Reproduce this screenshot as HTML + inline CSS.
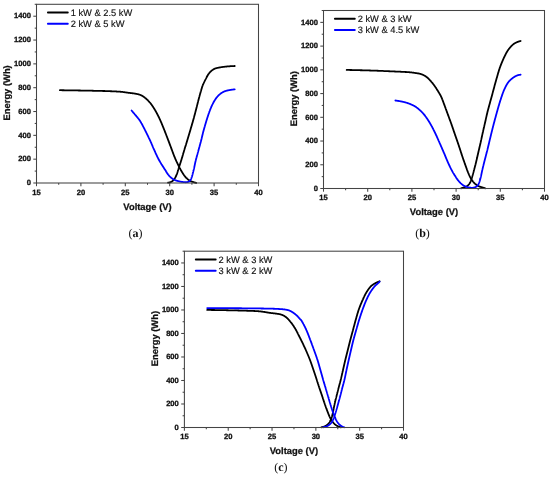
<!DOCTYPE html>
<html><head><meta charset="utf-8"><style>
html,body{margin:0;padding:0;background:#fff;}
body{width:550px;height:478px;overflow:hidden;}
svg{display:block;text-rendering:geometricPrecision;filter:blur(0.35px);}
.tk{font-family:"Liberation Sans",Arial,sans-serif;font-weight:bold;font-size:7.6px;fill:#111;stroke:#111;stroke-width:0.3px;}
.lab{font-family:"Liberation Sans",Arial,sans-serif;font-weight:bold;font-size:9.4px;fill:#111;stroke:#111;stroke-width:0.25px;}
.leg{font-family:"Liberation Sans",Arial,sans-serif;font-size:9.3px;fill:#111;stroke:#111;stroke-width:0.15px;}
.cap{font-family:"Liberation Serif","Times New Roman",serif;font-size:12px;fill:#111;}
</style></head><body>
<svg width="550" height="478" viewBox="0 0 550 478">
<path d="M59.90,90.20 L61.16,90.22 L62.41,90.24 L63.67,90.26 L64.92,90.28 L66.18,90.30 L67.43,90.31 L68.69,90.33 L69.94,90.35 L71.20,90.37 L72.45,90.39 L73.71,90.41 L74.96,90.43 L76.22,90.45 L77.47,90.47 L78.73,90.49 L79.98,90.51 L81.24,90.53 L82.49,90.55 L83.75,90.58 L85.00,90.60 L86.26,90.62 L87.54,90.65 L88.84,90.67 L90.15,90.70 L91.47,90.72 L92.79,90.75 L94.12,90.78 L95.44,90.80 L96.76,90.83 L98.07,90.86 L99.37,90.89 L100.66,90.92 L101.92,90.95 L103.17,90.98 L104.39,91.01 L105.58,91.05 L106.74,91.08 L107.87,91.12 L108.96,91.16 L110.00,91.20 L110.70,91.23 L111.39,91.26 L112.07,91.29 L112.74,91.32 L113.39,91.34 L114.04,91.37 L114.67,91.40 L115.29,91.43 L115.90,91.47 L116.50,91.50 L117.09,91.53 L117.67,91.57 L118.25,91.60 L118.81,91.64 L119.36,91.68 L119.91,91.72 L120.44,91.76 L120.97,91.80 L121.49,91.85 L122.00,91.90 L122.37,91.94 L122.73,91.98 L123.08,92.02 L123.42,92.06 L123.76,92.10 L124.09,92.15 L124.41,92.19 L124.73,92.24 L125.05,92.28 L125.36,92.33 L125.67,92.38 L125.98,92.43 L126.29,92.47 L126.60,92.52 L126.90,92.57 L127.22,92.62 L127.53,92.66 L127.85,92.71 L128.17,92.76 L128.50,92.80 L128.85,92.84 L129.19,92.89 L129.54,92.93 L129.90,92.97 L130.25,93.01 L130.61,93.05 L130.97,93.09 L131.33,93.12 L131.68,93.16 L132.04,93.20 L132.40,93.24 L132.75,93.28 L133.11,93.33 L133.46,93.37 L133.81,93.42 L134.16,93.47 L134.50,93.52 L134.84,93.58 L135.17,93.64 L135.50,93.70 L135.79,93.76 L136.08,93.82 L136.37,93.87 L136.66,93.93 L136.94,93.99 L137.22,94.04 L137.50,94.10 L137.78,94.17 L138.06,94.23 L138.33,94.30 L138.61,94.36 L138.88,94.44 L139.15,94.51 L139.42,94.60 L139.68,94.68 L139.95,94.77 L140.21,94.87 L140.48,94.97 L140.74,95.08 L141.00,95.20 L141.27,95.33 L141.54,95.47 L141.81,95.61 L142.07,95.76 L142.34,95.91 L142.60,96.07 L142.86,96.24 L143.12,96.41 L143.38,96.58 L143.64,96.76 L143.89,96.94 L144.15,97.13 L144.40,97.32 L144.65,97.51 L144.89,97.71 L145.14,97.90 L145.38,98.10 L145.62,98.30 L145.86,98.50 L146.10,98.70 L146.34,98.90 L146.57,99.11 L146.81,99.32 L147.04,99.53 L147.26,99.75 L147.49,99.96 L147.71,100.18 L147.93,100.40 L148.15,100.63 L148.37,100.85 L148.59,101.08 L148.80,101.32 L149.02,101.55 L149.23,101.79 L149.44,102.04 L149.66,102.28 L149.87,102.53 L150.08,102.78 L150.29,103.04 L150.50,103.30 L150.74,103.60 L150.97,103.90 L151.20,104.21 L151.44,104.52 L151.67,104.84 L151.90,105.16 L152.13,105.48 L152.35,105.81 L152.58,106.14 L152.80,106.48 L153.03,106.82 L153.25,107.16 L153.47,107.51 L153.69,107.86 L153.91,108.21 L154.13,108.56 L154.35,108.92 L154.57,109.28 L154.78,109.64 L155.00,110.00 L155.24,110.40 L155.47,110.80 L155.70,111.21 L155.93,111.61 L156.16,112.02 L156.39,112.44 L156.62,112.86 L156.84,113.28 L157.07,113.70 L157.29,114.13 L157.52,114.56 L157.74,115.00 L157.96,115.43 L158.18,115.88 L158.40,116.32 L158.62,116.77 L158.84,117.22 L159.06,117.68 L159.28,118.14 L159.50,118.60 L159.75,119.13 L159.99,119.66 L160.23,120.20 L160.48,120.74 L160.72,121.29 L160.96,121.84 L161.20,122.40 L161.43,122.96 L161.67,123.52 L161.91,124.09 L162.14,124.67 L162.38,125.25 L162.62,125.83 L162.86,126.41 L163.10,127.00 L163.33,127.60 L163.57,128.19 L163.81,128.79 L164.06,129.39 L164.30,130.00 L164.58,130.69 L164.85,131.39 L165.13,132.09 L165.41,132.80 L165.69,133.53 L165.97,134.25 L166.25,134.98 L166.53,135.72 L166.81,136.46 L167.10,137.20 L167.38,137.95 L167.66,138.69 L167.94,139.44 L168.23,140.19 L168.51,140.93 L168.79,141.67 L169.07,142.41 L169.35,143.15 L169.62,143.88 L169.90,144.60 L170.17,145.31 L170.44,146.01 L170.70,146.73 L170.97,147.44 L171.23,148.16 L171.49,148.87 L171.76,149.59 L172.02,150.30 L172.28,151.02 L172.54,151.73 L172.81,152.43 L173.07,153.14 L173.33,153.83 L173.59,154.52 L173.86,155.21 L174.12,155.88 L174.39,156.55 L174.66,157.21 L174.93,157.86 L175.20,158.50 L175.43,159.04 L175.67,159.58 L175.90,160.11 L176.14,160.64 L176.37,161.17 L176.61,161.68 L176.84,162.20 L177.08,162.71 L177.31,163.21 L177.55,163.71 L177.79,164.21 L178.03,164.70 L178.27,165.19 L178.51,165.67 L178.75,166.15 L179.00,166.63 L179.25,167.10 L179.49,167.57 L179.75,168.04 L180.00,168.50 L180.23,168.92 L180.47,169.34 L180.70,169.77 L180.94,170.19 L181.17,170.61 L181.41,171.03 L181.65,171.44 L181.89,171.85 L182.13,172.26 L182.37,172.66 L182.62,173.06 L182.86,173.45 L183.11,173.84 L183.36,174.22 L183.61,174.59 L183.86,174.95 L184.12,175.30 L184.38,175.65 L184.64,175.98 L184.90,176.30 L185.12,176.56 L185.34,176.81 L185.56,177.06 L185.78,177.30 L186.00,177.54 L186.23,177.78 L186.45,178.01 L186.68,178.23 L186.91,178.45 L187.13,178.67 L187.37,178.88 L187.60,179.08 L187.83,179.28 L188.06,179.47 L188.30,179.66 L188.54,179.84 L188.78,180.01 L189.02,180.18 L189.26,180.34 L189.50,180.50 L189.72,180.63 L189.94,180.76 L190.17,180.88 L190.40,180.99 L190.63,181.10 L190.87,181.21 L191.11,181.31 L191.34,181.40 L191.58,181.49 L191.82,181.58 L192.06,181.66 L192.29,181.74 L192.52,181.82 L192.75,181.90 L192.97,181.97 L193.19,182.04 L193.40,182.11 L193.61,182.17 L193.81,182.24 L194.00,182.30 L194.13,182.34 L194.25,182.38 L194.37,182.42 L194.49,182.45 L194.60,182.49 L194.71,182.52 L194.82,182.55 L194.93,182.58 L195.04,182.61 L195.15,182.63 L195.25,182.66 L195.35,182.68 L195.46,182.71 L195.56,182.74 L195.67,182.76 L195.77,182.79 L195.88,182.81 L195.98,182.84 L196.09,182.87 L196.20,182.90" fill="none" stroke="#000000" stroke-width="1.8" stroke-linecap="round" stroke-linejoin="round"/>
<path d="M168.10,182.70 L168.25,182.67 L168.39,182.64 L168.54,182.61 L168.68,182.58 L168.83,182.56 L168.98,182.53 L169.13,182.51 L169.27,182.49 L169.42,182.46 L169.57,182.44 L169.71,182.41 L169.86,182.38 L170.00,182.35 L170.15,182.31 L170.29,182.27 L170.44,182.23 L170.58,182.18 L170.72,182.13 L170.86,182.07 L171.00,182.00 L171.16,181.92 L171.32,181.83 L171.48,181.74 L171.63,181.64 L171.79,181.53 L171.95,181.42 L172.11,181.31 L172.26,181.19 L172.42,181.07 L172.57,180.95 L172.72,180.82 L172.87,180.68 L173.02,180.54 L173.17,180.40 L173.31,180.26 L173.45,180.11 L173.59,179.96 L173.73,179.81 L173.87,179.66 L174.00,179.50 L174.15,179.32 L174.29,179.13 L174.44,178.93 L174.57,178.73 L174.71,178.52 L174.84,178.31 L174.97,178.10 L175.10,177.88 L175.23,177.66 L175.35,177.43 L175.47,177.20 L175.59,176.97 L175.71,176.73 L175.82,176.49 L175.94,176.25 L176.05,176.00 L176.17,175.75 L176.28,175.51 L176.39,175.25 L176.50,175.00 L176.63,174.70 L176.75,174.39 L176.87,174.08 L176.99,173.76 L177.10,173.43 L177.21,173.11 L177.32,172.77 L177.43,172.44 L177.53,172.10 L177.63,171.75 L177.74,171.41 L177.84,171.06 L177.94,170.71 L178.05,170.35 L178.15,170.00 L178.26,169.64 L178.36,169.28 L178.47,168.92 L178.59,168.56 L178.70,168.20 L178.83,167.79 L178.97,167.38 L179.10,166.96 L179.24,166.54 L179.38,166.11 L179.52,165.68 L179.66,165.25 L179.80,164.82 L179.94,164.38 L180.09,163.94 L180.23,163.50 L180.37,163.06 L180.51,162.62 L180.66,162.17 L180.80,161.73 L180.94,161.28 L181.08,160.84 L181.22,160.39 L181.36,159.95 L181.50,159.50 L181.64,159.04 L181.78,158.57 L181.92,158.10 L182.06,157.63 L182.20,157.16 L182.34,156.69 L182.48,156.21 L182.62,155.74 L182.76,155.26 L182.90,154.78 L183.04,154.31 L183.17,153.83 L183.31,153.35 L183.45,152.87 L183.59,152.39 L183.73,151.91 L183.87,151.43 L184.01,150.96 L184.16,150.48 L184.30,150.00 L184.45,149.52 L184.59,149.03 L184.74,148.55 L184.89,148.07 L185.04,147.59 L185.19,147.10 L185.34,146.62 L185.49,146.14 L185.64,145.65 L185.79,145.17 L185.94,144.68 L186.10,144.20 L186.25,143.71 L186.40,143.23 L186.55,142.74 L186.70,142.25 L186.85,141.77 L187.00,141.28 L187.15,140.79 L187.30,140.30 L187.45,139.80 L187.60,139.30 L187.75,138.80 L187.90,138.30 L188.05,137.80 L188.20,137.30 L188.35,136.79 L188.50,136.29 L188.65,135.79 L188.80,135.28 L188.95,134.78 L189.10,134.27 L189.25,133.77 L189.40,133.26 L189.55,132.75 L189.70,132.24 L189.85,131.73 L190.00,131.22 L190.15,130.71 L190.30,130.20 L190.45,129.67 L190.61,129.14 L190.77,128.61 L190.92,128.08 L191.08,127.55 L191.24,127.01 L191.39,126.48 L191.55,125.94 L191.71,125.40 L191.87,124.87 L192.02,124.33 L192.18,123.79 L192.33,123.25 L192.49,122.71 L192.64,122.18 L192.80,121.64 L192.95,121.10 L193.10,120.57 L193.25,120.03 L193.40,119.50 L193.55,118.97 L193.69,118.44 L193.84,117.92 L193.98,117.39 L194.12,116.86 L194.27,116.33 L194.41,115.80 L194.55,115.27 L194.69,114.74 L194.83,114.21 L194.97,113.69 L195.11,113.16 L195.25,112.63 L195.39,112.11 L195.53,111.59 L195.66,111.07 L195.80,110.55 L195.93,110.03 L196.07,109.51 L196.20,109.00 L196.33,108.51 L196.45,108.03 L196.57,107.54 L196.70,107.06 L196.82,106.57 L196.94,106.09 L197.06,105.61 L197.18,105.13 L197.30,104.65 L197.42,104.17 L197.53,103.69 L197.65,103.22 L197.77,102.74 L197.89,102.27 L198.01,101.81 L198.12,101.34 L198.24,100.88 L198.36,100.41 L198.48,99.96 L198.60,99.50 L198.71,99.08 L198.82,98.67 L198.93,98.26 L199.04,97.84 L199.15,97.44 L199.26,97.03 L199.36,96.62 L199.47,96.22 L199.58,95.82 L199.69,95.42 L199.80,95.02 L199.91,94.62 L200.02,94.22 L200.13,93.83 L200.24,93.44 L200.35,93.05 L200.46,92.66 L200.57,92.27 L200.69,91.88 L200.80,91.50 L200.91,91.14 L201.01,90.78 L201.12,90.42 L201.22,90.06 L201.33,89.70 L201.43,89.35 L201.54,88.99 L201.64,88.64 L201.75,88.28 L201.85,87.93 L201.96,87.58 L202.07,87.24 L202.18,86.89 L202.29,86.55 L202.40,86.22 L202.52,85.89 L202.64,85.56 L202.75,85.23 L202.88,84.91 L203.00,84.60 L203.11,84.33 L203.22,84.07 L203.33,83.81 L203.45,83.56 L203.56,83.31 L203.68,83.06 L203.79,82.81 L203.91,82.57 L204.03,82.33 L204.15,82.09 L204.28,81.86 L204.40,81.62 L204.52,81.38 L204.64,81.15 L204.77,80.91 L204.89,80.67 L205.02,80.43 L205.15,80.19 L205.27,79.95 L205.40,79.70 L205.53,79.44 L205.67,79.18 L205.80,78.91 L205.93,78.64 L206.07,78.37 L206.20,78.10 L206.34,77.83 L206.47,77.56 L206.61,77.29 L206.75,77.02 L206.89,76.75 L207.03,76.48 L207.17,76.22 L207.31,75.96 L207.46,75.70 L207.60,75.45 L207.75,75.20 L207.90,74.96 L208.05,74.73 L208.20,74.50 L208.33,74.31 L208.46,74.12 L208.59,73.94 L208.72,73.76 L208.86,73.58 L208.99,73.40 L209.12,73.23 L209.26,73.06 L209.39,72.89 L209.53,72.73 L209.67,72.57 L209.81,72.41 L209.95,72.25 L210.09,72.09 L210.24,71.94 L210.39,71.79 L210.54,71.64 L210.69,71.49 L210.84,71.34 L211.00,71.20 L211.16,71.06 L211.32,70.92 L211.47,70.78 L211.64,70.65 L211.80,70.51 L211.96,70.38 L212.13,70.25 L212.29,70.12 L212.46,70.00 L212.63,69.88 L212.81,69.76 L212.98,69.64 L213.16,69.52 L213.34,69.41 L213.53,69.30 L213.71,69.20 L213.90,69.09 L214.10,68.99 L214.30,68.89 L214.50,68.80 L214.74,68.70 L214.98,68.60 L215.23,68.51 L215.48,68.42 L215.74,68.33 L216.00,68.26 L216.27,68.18 L216.53,68.11 L216.81,68.04 L217.08,67.98 L217.36,67.91 L217.65,67.85 L217.93,67.79 L218.22,67.74 L218.51,67.68 L218.80,67.62 L219.10,67.57 L219.40,67.51 L219.70,67.46 L220.00,67.40 L220.37,67.33 L220.74,67.27 L221.12,67.20 L221.51,67.14 L221.91,67.09 L222.31,67.03 L222.71,66.97 L223.12,66.92 L223.53,66.87 L223.94,66.82 L224.36,66.77 L224.77,66.72 L225.19,66.68 L225.60,66.63 L226.01,66.59 L226.42,66.55 L226.82,66.51 L227.22,66.47 L227.61,66.44 L228.00,66.40 L228.35,66.37 L228.69,66.34 L229.04,66.31 L229.38,66.29 L229.72,66.27 L230.05,66.24 L230.39,66.22 L230.72,66.20 L231.05,66.19 L231.39,66.17 L231.72,66.15 L232.05,66.14 L232.38,66.12 L232.71,66.10 L233.04,66.09 L233.37,66.07 L233.70,66.06 L234.03,66.04 L234.37,66.02 L234.70,66.00" fill="none" stroke="#000000" stroke-width="1.8" stroke-linecap="round" stroke-linejoin="round"/>
<path d="M131.60,110.50 L131.79,110.73 L131.99,110.97 L132.18,111.20 L132.38,111.44 L132.57,111.67 L132.77,111.90 L132.96,112.13 L133.15,112.37 L133.35,112.60 L133.54,112.83 L133.74,113.07 L133.93,113.30 L134.13,113.54 L134.32,113.77 L134.52,114.01 L134.71,114.24 L134.91,114.48 L135.11,114.72 L135.30,114.96 L135.50,115.20 L135.71,115.45 L135.92,115.70 L136.13,115.95 L136.34,116.20 L136.55,116.45 L136.77,116.70 L136.98,116.95 L137.20,117.20 L137.41,117.45 L137.62,117.70 L137.84,117.96 L138.05,118.22 L138.26,118.48 L138.47,118.74 L138.68,119.01 L138.89,119.28 L139.10,119.55 L139.30,119.83 L139.50,120.11 L139.70,120.40 L139.92,120.73 L140.14,121.06 L140.35,121.40 L140.56,121.75 L140.77,122.10 L140.98,122.46 L141.19,122.81 L141.39,123.18 L141.60,123.54 L141.80,123.91 L142.00,124.29 L142.20,124.66 L142.40,125.04 L142.60,125.42 L142.80,125.80 L143.00,126.18 L143.20,126.56 L143.40,126.94 L143.60,127.32 L143.80,127.70 L144.01,128.11 L144.23,128.52 L144.44,128.93 L144.66,129.35 L144.88,129.77 L145.09,130.20 L145.31,130.62 L145.52,131.05 L145.74,131.48 L145.95,131.91 L146.16,132.34 L146.37,132.77 L146.58,133.19 L146.79,133.62 L147.00,134.04 L147.20,134.46 L147.41,134.88 L147.61,135.29 L147.81,135.70 L148.00,136.10 L148.17,136.46 L148.34,136.81 L148.51,137.16 L148.68,137.50 L148.84,137.85 L149.01,138.19 L149.17,138.53 L149.33,138.87 L149.49,139.21 L149.65,139.54 L149.81,139.88 L149.97,140.22 L150.13,140.55 L150.28,140.88 L150.44,141.22 L150.59,141.55 L150.74,141.89 L150.90,142.22 L151.05,142.56 L151.20,142.90 L151.35,143.23 L151.49,143.56 L151.63,143.88 L151.76,144.20 L151.90,144.52 L152.03,144.84 L152.16,145.16 L152.30,145.47 L152.43,145.79 L152.56,146.11 L152.69,146.43 L152.82,146.76 L152.96,147.08 L153.10,147.41 L153.24,147.75 L153.38,148.09 L153.53,148.43 L153.68,148.78 L153.84,149.14 L154.00,149.50 L154.21,149.97 L154.43,150.46 L154.65,150.95 L154.88,151.46 L155.11,151.97 L155.35,152.50 L155.59,153.02 L155.83,153.56 L156.08,154.10 L156.33,154.64 L156.58,155.18 L156.84,155.73 L157.10,156.27 L157.36,156.82 L157.63,157.36 L157.90,157.90 L158.17,158.43 L158.45,158.96 L158.72,159.48 L159.00,160.00 L159.29,160.52 L159.58,161.04 L159.88,161.56 L160.19,162.09 L160.51,162.62 L160.83,163.15 L161.16,163.68 L161.48,164.21 L161.81,164.73 L162.14,165.25 L162.47,165.77 L162.80,166.28 L163.12,166.78 L163.44,167.27 L163.75,167.76 L164.06,168.23 L164.36,168.69 L164.65,169.14 L164.93,169.58 L165.20,170.00 L165.39,170.29 L165.57,170.58 L165.74,170.86 L165.92,171.14 L166.08,171.41 L166.25,171.68 L166.41,171.94 L166.57,172.20 L166.73,172.46 L166.89,172.71 L167.05,172.96 L167.20,173.20 L167.36,173.44 L167.52,173.67 L167.68,173.90 L167.84,174.13 L168.00,174.35 L168.16,174.57 L168.33,174.79 L168.50,175.00 L168.64,175.18 L168.79,175.35 L168.93,175.52 L169.08,175.68 L169.22,175.85 L169.37,176.01 L169.51,176.17 L169.66,176.32 L169.80,176.47 L169.95,176.62 L170.10,176.77 L170.25,176.92 L170.40,177.06 L170.55,177.20 L170.70,177.34 L170.86,177.47 L171.02,177.61 L171.18,177.74 L171.34,177.87 L171.50,178.00 L171.66,178.12 L171.83,178.25 L171.99,178.37 L172.16,178.49 L172.33,178.60 L172.50,178.72 L172.67,178.83 L172.84,178.94 L173.01,179.05 L173.19,179.16 L173.36,179.26 L173.54,179.37 L173.72,179.47 L173.90,179.56 L174.08,179.66 L174.26,179.75 L174.45,179.84 L174.63,179.93 L174.81,180.02 L175.00,180.10 L175.19,180.18 L175.38,180.26 L175.57,180.34 L175.77,180.41 L175.97,180.48 L176.16,180.54 L176.36,180.61 L176.56,180.67 L176.77,180.73 L176.97,180.79 L177.17,180.85 L177.37,180.90 L177.58,180.95 L177.78,181.01 L177.99,181.06 L178.19,181.11 L178.39,181.16 L178.60,181.20 L178.80,181.25 L179.00,181.30 L179.20,181.35 L179.40,181.39 L179.60,181.44 L179.80,181.48 L180.00,181.52 L180.20,181.56 L180.41,181.60 L180.61,181.64 L180.81,181.68 L181.01,181.71 L181.21,181.75 L181.41,181.78 L181.62,181.81 L181.82,181.84 L182.02,181.87 L182.21,181.90 L182.41,181.93 L182.61,181.95 L182.81,181.98 L183.00,182.00 L183.18,182.02 L183.36,182.04 L183.54,182.06 L183.73,182.08 L183.91,182.10 L184.09,182.12 L184.27,182.14 L184.45,182.16 L184.63,182.18 L184.81,182.19 L184.99,182.20 L185.17,182.21 L185.34,182.22 L185.51,182.23 L185.68,182.23 L185.85,182.23 L186.02,182.23 L186.18,182.22 L186.34,182.21 L186.50,182.20 L186.63,182.19 L186.75,182.17 L186.88,182.16 L187.00,182.14 L187.13,182.12 L187.25,182.10 L187.37,182.08 L187.49,182.06 L187.60,182.03 L187.72,182.01 L187.83,181.98 L187.95,181.95 L188.06,181.91 L188.17,181.88 L188.28,181.84 L188.39,181.80 L188.49,181.75 L188.60,181.70 L188.70,181.65 L188.80,181.60 L188.90,181.54 L189.00,181.48 L189.09,181.42 L189.19,181.36 L189.28,181.29 L189.37,181.22 L189.46,181.15 L189.55,181.07 L189.63,181.00 L189.72,180.92 L189.80,180.83 L189.89,180.75 L189.97,180.66 L190.05,180.57 L190.13,180.48 L190.20,180.39 L190.28,180.30 L190.35,180.20 L190.43,180.10 L190.50,180.00 L190.58,179.88 L190.66,179.75 L190.74,179.62 L190.81,179.49 L190.89,179.35 L190.96,179.20 L191.02,179.06 L191.09,178.91 L191.15,178.76 L191.22,178.61 L191.28,178.45 L191.34,178.29 L191.40,178.14 L191.46,177.98 L191.51,177.81 L191.57,177.65 L191.63,177.49 L191.69,177.33 L191.74,177.16 L191.80,177.00 L191.86,176.82 L191.93,176.63 L191.99,176.44 L192.05,176.25 L192.10,176.05 L192.16,175.86 L192.22,175.66 L192.27,175.46 L192.32,175.26 L192.38,175.06 L192.43,174.85 L192.48,174.65 L192.53,174.44 L192.59,174.24 L192.64,174.03 L192.69,173.83 L192.74,173.62 L192.79,173.41 L192.85,173.21 L192.90,173.00 L192.96,172.78 L193.01,172.57 L193.07,172.35 L193.12,172.14 L193.18,171.92 L193.23,171.71 L193.28,171.49 L193.34,171.28 L193.39,171.06 L193.45,170.84 L193.50,170.62 L193.55,170.40 L193.61,170.17 L193.66,169.94 L193.72,169.71 L193.77,169.48 L193.83,169.24 L193.89,169.00 L193.94,168.75 L194.00,168.50 L194.08,168.17 L194.15,167.82 L194.23,167.47 L194.30,167.11 L194.38,166.74 L194.46,166.36 L194.54,165.98 L194.62,165.60 L194.70,165.21 L194.78,164.82 L194.86,164.42 L194.94,164.03 L195.02,163.64 L195.10,163.25 L195.18,162.86 L195.26,162.47 L195.35,162.10 L195.43,161.72 L195.52,161.36 L195.60,161.00 L195.68,160.68 L195.75,160.37 L195.83,160.06 L195.91,159.75 L195.99,159.44 L196.07,159.14 L196.15,158.84 L196.23,158.54 L196.31,158.24 L196.39,157.94 L196.47,157.64 L196.56,157.35 L196.64,157.05 L196.72,156.76 L196.80,156.46 L196.88,156.17 L196.96,155.88 L197.04,155.59 L197.12,155.29 L197.20,155.00 L197.28,154.72 L197.35,154.45 L197.42,154.17 L197.50,153.90 L197.57,153.64 L197.64,153.37 L197.71,153.10 L197.79,152.84 L197.86,152.57 L197.93,152.31 L198.01,152.04 L198.08,151.77 L198.15,151.50 L198.23,151.23 L198.30,150.95 L198.38,150.67 L198.46,150.39 L198.54,150.10 L198.62,149.80 L198.70,149.50 L198.80,149.12 L198.91,148.73 L199.02,148.33 L199.13,147.93 L199.24,147.53 L199.35,147.11 L199.47,146.70 L199.58,146.28 L199.70,145.85 L199.82,145.42 L199.94,144.99 L200.05,144.56 L200.17,144.12 L200.29,143.68 L200.41,143.23 L200.53,142.79 L200.65,142.34 L200.77,141.90 L200.88,141.45 L201.00,141.00 L201.13,140.50 L201.26,139.99 L201.38,139.48 L201.51,138.97 L201.64,138.45 L201.76,137.92 L201.89,137.40 L202.02,136.87 L202.15,136.33 L202.27,135.80 L202.40,135.27 L202.53,134.73 L202.66,134.20 L202.79,133.66 L202.92,133.13 L203.06,132.60 L203.19,132.07 L203.33,131.54 L203.46,131.02 L203.60,130.50 L203.74,129.99 L203.88,129.48 L204.02,128.98 L204.16,128.47 L204.30,127.96 L204.44,127.45 L204.58,126.94 L204.73,126.44 L204.87,125.93 L205.02,125.43 L205.17,124.92 L205.31,124.42 L205.46,123.92 L205.61,123.43 L205.76,122.93 L205.91,122.44 L206.05,121.95 L206.20,121.46 L206.35,120.98 L206.50,120.50 L206.64,120.06 L206.78,119.61 L206.91,119.17 L207.05,118.73 L207.19,118.29 L207.33,117.85 L207.47,117.41 L207.61,116.98 L207.75,116.55 L207.89,116.11 L208.03,115.69 L208.17,115.26 L208.31,114.84 L208.45,114.42 L208.59,114.01 L208.73,113.60 L208.87,113.19 L209.02,112.79 L209.16,112.39 L209.30,112.00 L209.42,111.67 L209.54,111.33 L209.67,111.01 L209.79,110.68 L209.91,110.36 L210.03,110.04 L210.15,109.73 L210.27,109.41 L210.39,109.10 L210.52,108.79 L210.64,108.49 L210.76,108.18 L210.89,107.88 L211.01,107.58 L211.14,107.28 L211.27,106.98 L211.40,106.69 L211.53,106.39 L211.66,106.09 L211.80,105.80 L211.93,105.52 L212.06,105.24 L212.19,104.97 L212.33,104.69 L212.46,104.41 L212.60,104.14 L212.73,103.87 L212.87,103.60 L213.01,103.33 L213.15,103.06 L213.29,102.79 L213.43,102.53 L213.57,102.26 L213.72,102.00 L213.86,101.75 L214.01,101.49 L214.15,101.24 L214.30,100.99 L214.45,100.74 L214.60,100.50 L214.74,100.28 L214.87,100.07 L215.01,99.85 L215.15,99.64 L215.29,99.43 L215.42,99.22 L215.56,99.01 L215.70,98.81 L215.84,98.61 L215.99,98.41 L216.13,98.21 L216.27,98.01 L216.42,97.81 L216.57,97.62 L216.72,97.43 L216.87,97.24 L217.02,97.05 L217.18,96.87 L217.34,96.68 L217.50,96.50 L217.66,96.32 L217.82,96.15 L217.98,95.97 L218.15,95.80 L218.31,95.63 L218.48,95.45 L218.65,95.29 L218.82,95.12 L219.00,94.95 L219.17,94.79 L219.35,94.63 L219.53,94.47 L219.70,94.31 L219.88,94.16 L220.07,94.01 L220.25,93.86 L220.44,93.72 L220.62,93.57 L220.81,93.44 L221.00,93.30 L221.19,93.17 L221.37,93.04 L221.56,92.92 L221.75,92.80 L221.94,92.68 L222.14,92.57 L222.33,92.45 L222.53,92.34 L222.72,92.23 L222.92,92.13 L223.12,92.02 L223.32,91.92 L223.53,91.82 L223.73,91.73 L223.94,91.63 L224.15,91.54 L224.36,91.45 L224.57,91.37 L224.78,91.28 L225.00,91.20 L225.23,91.12 L225.47,91.03 L225.71,90.96 L225.95,90.88 L226.20,90.81 L226.45,90.75 L226.70,90.68 L226.95,90.62 L227.20,90.56 L227.46,90.50 L227.72,90.45 L227.97,90.39 L228.23,90.34 L228.48,90.29 L228.74,90.24 L229.00,90.19 L229.25,90.14 L229.50,90.10 L229.75,90.05 L230.00,90.00 L230.24,89.95 L230.47,89.91 L230.71,89.87 L230.95,89.83 L231.18,89.79 L231.42,89.76 L231.65,89.72 L231.89,89.69 L232.12,89.65 L232.36,89.62 L232.59,89.59 L232.83,89.56 L233.06,89.53 L233.29,89.50 L233.53,89.46 L233.76,89.43 L234.00,89.40 L234.23,89.37 L234.47,89.33 L234.70,89.30" fill="none" stroke="#0000ff" stroke-width="1.8" stroke-linecap="round" stroke-linejoin="round"/>
<rect x="36.50" y="4.30" width="222.00" height="178.70" fill="none" stroke="#444" stroke-width="1.05"/>
<line x1="36.50" y1="183.00" x2="36.50" y2="186.20" stroke="#444" stroke-width="1.05"/>
<text x="36.50" y="194.50" class="tk" text-anchor="middle">15</text>
<line x1="58.70" y1="183.00" x2="58.70" y2="184.80" stroke="#444" stroke-width="1.05"/>
<line x1="80.90" y1="183.00" x2="80.90" y2="186.20" stroke="#444" stroke-width="1.05"/>
<text x="80.90" y="194.50" class="tk" text-anchor="middle">20</text>
<line x1="103.10" y1="183.00" x2="103.10" y2="184.80" stroke="#444" stroke-width="1.05"/>
<line x1="125.30" y1="183.00" x2="125.30" y2="186.20" stroke="#444" stroke-width="1.05"/>
<text x="125.30" y="194.50" class="tk" text-anchor="middle">25</text>
<line x1="147.50" y1="183.00" x2="147.50" y2="184.80" stroke="#444" stroke-width="1.05"/>
<line x1="169.70" y1="183.00" x2="169.70" y2="186.20" stroke="#444" stroke-width="1.05"/>
<text x="169.70" y="194.50" class="tk" text-anchor="middle">30</text>
<line x1="191.90" y1="183.00" x2="191.90" y2="184.80" stroke="#444" stroke-width="1.05"/>
<line x1="214.10" y1="183.00" x2="214.10" y2="186.20" stroke="#444" stroke-width="1.05"/>
<text x="214.10" y="194.50" class="tk" text-anchor="middle">35</text>
<line x1="236.30" y1="183.00" x2="236.30" y2="184.80" stroke="#444" stroke-width="1.05"/>
<line x1="258.50" y1="183.00" x2="258.50" y2="186.20" stroke="#444" stroke-width="1.05"/>
<text x="258.50" y="194.50" class="tk" text-anchor="middle">40</text>
<line x1="36.50" y1="183.00" x2="33.30" y2="183.00" stroke="#444" stroke-width="1.05"/>
<text x="30.90" y="185.20" class="tk" text-anchor="end">0</text>
<line x1="36.50" y1="171.09" x2="34.70" y2="171.09" stroke="#444" stroke-width="1.05"/>
<line x1="36.50" y1="159.17" x2="33.30" y2="159.17" stroke="#444" stroke-width="1.05"/>
<text x="30.90" y="161.37" class="tk" text-anchor="end">200</text>
<line x1="36.50" y1="147.26" x2="34.70" y2="147.26" stroke="#444" stroke-width="1.05"/>
<line x1="36.50" y1="135.35" x2="33.30" y2="135.35" stroke="#444" stroke-width="1.05"/>
<text x="30.90" y="137.55" class="tk" text-anchor="end">400</text>
<line x1="36.50" y1="123.43" x2="34.70" y2="123.43" stroke="#444" stroke-width="1.05"/>
<line x1="36.50" y1="111.52" x2="33.30" y2="111.52" stroke="#444" stroke-width="1.05"/>
<text x="30.90" y="113.72" class="tk" text-anchor="end">600</text>
<line x1="36.50" y1="99.61" x2="34.70" y2="99.61" stroke="#444" stroke-width="1.05"/>
<line x1="36.50" y1="87.69" x2="33.30" y2="87.69" stroke="#444" stroke-width="1.05"/>
<text x="30.90" y="89.89" class="tk" text-anchor="end">800</text>
<line x1="36.50" y1="75.78" x2="34.70" y2="75.78" stroke="#444" stroke-width="1.05"/>
<line x1="36.50" y1="63.87" x2="33.30" y2="63.87" stroke="#444" stroke-width="1.05"/>
<text x="30.90" y="66.07" class="tk" text-anchor="end">1000</text>
<line x1="36.50" y1="51.95" x2="34.70" y2="51.95" stroke="#444" stroke-width="1.05"/>
<line x1="36.50" y1="40.04" x2="33.30" y2="40.04" stroke="#444" stroke-width="1.05"/>
<text x="30.90" y="42.24" class="tk" text-anchor="end">1200</text>
<line x1="36.50" y1="28.13" x2="34.70" y2="28.13" stroke="#444" stroke-width="1.05"/>
<line x1="36.50" y1="16.21" x2="33.30" y2="16.21" stroke="#444" stroke-width="1.05"/>
<text x="30.90" y="18.41" class="tk" text-anchor="end">1400</text>
<line x1="36.50" y1="4.30" x2="34.70" y2="4.30" stroke="#444" stroke-width="1.05"/>
<text x="147.50" y="209.60" class="lab" text-anchor="middle">Voltage (V)</text>
<text x="0" y="0" class="lab" text-anchor="middle" transform="translate(9.80,92.85) rotate(-90)">Energy (Wh)</text>
<line x1="47.90" y1="12.55" x2="67.80" y2="12.55" stroke="#000000" stroke-width="1.9" stroke-linecap="round"/>
<text x="70.70" y="15.85" class="leg">1 kW &amp; 2.5 kW</text>
<line x1="47.90" y1="23.80" x2="67.80" y2="23.80" stroke="#0000ff" stroke-width="1.9" stroke-linecap="round"/>
<text x="70.70" y="27.10" class="leg">2 kW &amp; 5 kW</text>
<text x="135.60" y="236.60" class="cap" text-anchor="middle">(<tspan font-weight="bold">a</tspan>)</text>
<path d="M346.70,69.90 L347.86,69.93 L349.03,69.96 L350.19,69.99 L351.35,70.01 L352.51,70.04 L353.66,70.07 L354.82,70.10 L355.98,70.12 L357.14,70.15 L358.30,70.18 L359.46,70.21 L360.62,70.23 L361.78,70.26 L362.95,70.29 L364.12,70.32 L365.29,70.36 L366.46,70.39 L367.64,70.43 L368.82,70.46 L370.00,70.50 L371.24,70.54 L372.49,70.58 L373.76,70.63 L375.05,70.67 L376.34,70.72 L377.64,70.77 L378.94,70.82 L380.24,70.87 L381.54,70.92 L382.84,70.97 L384.13,71.03 L385.42,71.08 L386.69,71.13 L387.94,71.19 L389.18,71.24 L390.39,71.29 L391.59,71.34 L392.75,71.40 L393.89,71.45 L395.00,71.50 L395.84,71.54 L396.69,71.58 L397.52,71.61 L398.35,71.65 L399.18,71.69 L399.99,71.72 L400.80,71.76 L401.60,71.79 L402.39,71.83 L403.16,71.86 L403.92,71.90 L404.67,71.94 L405.40,71.98 L406.12,72.02 L406.82,72.06 L407.50,72.10 L408.15,72.15 L408.79,72.20 L409.41,72.25 L410.00,72.30 L410.36,72.33 L410.72,72.37 L411.06,72.41 L411.39,72.44 L411.72,72.48 L412.04,72.52 L412.35,72.56 L412.66,72.60 L412.95,72.64 L413.25,72.68 L413.54,72.72 L413.82,72.76 L414.10,72.81 L414.38,72.85 L414.65,72.89 L414.92,72.93 L415.19,72.97 L415.46,73.02 L415.73,73.06 L416.00,73.10 L416.22,73.13 L416.43,73.17 L416.65,73.20 L416.86,73.23 L417.07,73.26 L417.27,73.29 L417.48,73.32 L417.68,73.34 L417.88,73.37 L418.07,73.41 L418.27,73.44 L418.47,73.47 L418.66,73.50 L418.85,73.54 L419.04,73.58 L419.24,73.62 L419.43,73.66 L419.62,73.70 L419.81,73.75 L420.00,73.80 L420.18,73.85 L420.36,73.90 L420.54,73.95 L420.72,74.01 L420.90,74.06 L421.08,74.12 L421.26,74.18 L421.43,74.24 L421.61,74.30 L421.78,74.36 L421.95,74.43 L422.13,74.49 L422.30,74.56 L422.47,74.63 L422.64,74.71 L422.82,74.78 L422.99,74.86 L423.16,74.94 L423.33,75.02 L423.50,75.10 L423.68,75.19 L423.86,75.28 L424.04,75.37 L424.22,75.47 L424.39,75.57 L424.57,75.67 L424.75,75.77 L424.93,75.87 L425.10,75.98 L425.28,76.09 L425.46,76.20 L425.63,76.31 L425.80,76.43 L425.98,76.54 L426.15,76.66 L426.32,76.79 L426.49,76.91 L426.66,77.04 L426.83,77.17 L427.00,77.30 L427.18,77.45 L427.36,77.60 L427.54,77.76 L427.72,77.92 L427.90,78.08 L428.08,78.25 L428.26,78.42 L428.43,78.59 L428.61,78.76 L428.78,78.94 L428.95,79.12 L429.13,79.30 L429.30,79.49 L429.47,79.67 L429.64,79.86 L429.81,80.04 L429.99,80.23 L430.16,80.42 L430.33,80.61 L430.50,80.80 L430.68,81.00 L430.87,81.21 L431.05,81.42 L431.23,81.63 L431.42,81.84 L431.60,82.05 L431.78,82.27 L431.96,82.48 L432.15,82.70 L432.33,82.92 L432.51,83.14 L432.69,83.36 L432.87,83.59 L433.05,83.81 L433.22,84.04 L433.40,84.27 L433.58,84.50 L433.75,84.73 L433.93,84.97 L434.10,85.20 L434.28,85.45 L434.46,85.70 L434.64,85.95 L434.82,86.21 L435.00,86.47 L435.18,86.73 L435.35,86.99 L435.53,87.25 L435.71,87.51 L435.88,87.78 L436.05,88.04 L436.23,88.31 L436.40,88.58 L436.57,88.85 L436.74,89.13 L436.92,89.40 L437.09,89.67 L437.26,89.95 L437.43,90.22 L437.60,90.50 L437.78,90.79 L437.96,91.08 L438.14,91.38 L438.32,91.67 L438.50,91.96 L438.68,92.26 L438.86,92.55 L439.04,92.85 L439.22,93.15 L439.40,93.45 L439.58,93.75 L439.76,94.06 L439.93,94.37 L440.10,94.68 L440.27,94.99 L440.44,95.30 L440.61,95.62 L440.78,95.95 L440.94,96.27 L441.10,96.60 L441.27,96.97 L441.44,97.34 L441.61,97.71 L441.77,98.09 L441.93,98.47 L442.09,98.86 L442.24,99.25 L442.40,99.64 L442.55,100.04 L442.70,100.44 L442.85,100.84 L443.00,101.24 L443.15,101.64 L443.29,102.05 L443.44,102.46 L443.59,102.86 L443.74,103.27 L443.89,103.68 L444.05,104.09 L444.20,104.50 L444.36,104.94 L444.53,105.37 L444.69,105.81 L444.86,106.26 L445.02,106.70 L445.19,107.15 L445.35,107.59 L445.51,108.04 L445.68,108.49 L445.84,108.95 L446.01,109.40 L446.17,109.85 L446.34,110.31 L446.50,110.76 L446.67,111.22 L446.83,111.67 L447.00,112.13 L447.17,112.59 L447.33,113.04 L447.50,113.50 L447.67,113.97 L447.85,114.44 L448.02,114.90 L448.19,115.37 L448.37,115.84 L448.54,116.31 L448.72,116.78 L448.89,117.25 L449.07,117.72 L449.24,118.19 L449.42,118.66 L449.59,119.14 L449.77,119.61 L449.94,120.09 L450.12,120.57 L450.30,121.05 L450.47,121.53 L450.65,122.02 L450.82,122.51 L451.00,123.00 L451.19,123.53 L451.38,124.07 L451.57,124.60 L451.76,125.15 L451.95,125.69 L452.14,126.24 L452.33,126.79 L452.52,127.34 L452.71,127.89 L452.90,128.45 L453.09,129.00 L453.28,129.56 L453.47,130.12 L453.66,130.67 L453.85,131.23 L454.04,131.79 L454.23,132.34 L454.42,132.90 L454.61,133.45 L454.80,134.00 L454.99,134.55 L455.18,135.10 L455.37,135.65 L455.56,136.20 L455.75,136.75 L455.95,137.30 L456.14,137.85 L456.33,138.40 L456.52,138.95 L456.71,139.50 L456.90,140.05 L457.09,140.60 L457.28,141.15 L457.47,141.70 L457.66,142.25 L457.85,142.80 L458.04,143.35 L458.23,143.90 L458.41,144.45 L458.60,145.00 L458.78,145.55 L458.97,146.10 L459.15,146.66 L459.33,147.21 L459.51,147.77 L459.70,148.32 L459.88,148.88 L460.06,149.44 L460.24,149.99 L460.42,150.55 L460.59,151.11 L460.77,151.66 L460.95,152.21 L461.13,152.76 L461.31,153.31 L461.49,153.85 L461.67,154.40 L461.84,154.93 L462.02,155.47 L462.20,156.00 L462.37,156.49 L462.53,156.98 L462.70,157.47 L462.86,157.96 L463.03,158.45 L463.20,158.93 L463.36,159.41 L463.53,159.89 L463.69,160.37 L463.86,160.85 L464.02,161.32 L464.19,161.80 L464.35,162.27 L464.52,162.74 L464.68,163.20 L464.84,163.67 L465.01,164.13 L465.17,164.59 L465.34,165.05 L465.50,165.50 L465.65,165.92 L465.80,166.34 L465.95,166.75 L466.10,167.17 L466.24,167.58 L466.39,167.99 L466.54,168.41 L466.68,168.81 L466.83,169.22 L466.98,169.63 L467.12,170.03 L467.27,170.43 L467.42,170.83 L467.57,171.22 L467.72,171.61 L467.87,171.99 L468.03,172.38 L468.18,172.76 L468.34,173.13 L468.50,173.50 L468.64,173.82 L468.78,174.15 L468.92,174.47 L469.06,174.79 L469.21,175.11 L469.35,175.42 L469.49,175.73 L469.63,176.04 L469.78,176.35 L469.92,176.65 L470.07,176.95 L470.22,177.25 L470.37,177.55 L470.52,177.84 L470.68,178.12 L470.84,178.41 L471.00,178.69 L471.16,178.96 L471.33,179.23 L471.50,179.50 L471.66,179.74 L471.82,179.97 L471.98,180.21 L472.14,180.44 L472.30,180.67 L472.47,180.89 L472.64,181.11 L472.81,181.33 L472.98,181.55 L473.15,181.76 L473.33,181.97 L473.51,182.18 L473.69,182.38 L473.87,182.58 L474.05,182.78 L474.24,182.97 L474.42,183.16 L474.61,183.34 L474.81,183.52 L475.00,183.70 L475.18,183.86 L475.37,184.02 L475.56,184.17 L475.75,184.32 L475.94,184.47 L476.14,184.61 L476.34,184.75 L476.54,184.89 L476.74,185.03 L476.94,185.16 L477.14,185.29 L477.35,185.41 L477.55,185.53 L477.76,185.65 L477.96,185.77 L478.17,185.88 L478.38,185.99 L478.59,186.10 L478.79,186.20 L479.00,186.30 L479.20,186.39 L479.40,186.48 L479.60,186.56 L479.80,186.64 L480.01,186.71 L480.22,186.78 L480.43,186.85 L480.64,186.92 L480.85,186.98 L481.06,187.04 L481.27,187.10 L481.47,187.16 L481.68,187.22 L481.88,187.27 L482.08,187.33 L482.27,187.38 L482.46,187.44 L482.65,187.49 L482.83,187.55 L483.00,187.60 L483.12,187.64 L483.25,187.68 L483.37,187.72 L483.48,187.75 L483.60,187.79 L483.71,187.83 L483.82,187.86 L483.93,187.90 L484.03,187.93 L484.14,187.96 L484.25,188.00 L484.35,188.03 L484.46,188.06 L484.56,188.10 L484.67,188.13 L484.77,188.16 L484.88,188.20 L484.98,188.23 L485.09,188.27 L485.20,188.30" fill="none" stroke="#000000" stroke-width="1.8" stroke-linecap="round" stroke-linejoin="round"/>
<path d="M461.10,188.30 L461.24,188.26 L461.39,188.21 L461.53,188.17 L461.68,188.13 L461.82,188.09 L461.97,188.04 L462.11,188.00 L462.25,187.96 L462.40,187.92 L462.54,187.88 L462.69,187.84 L462.83,187.79 L462.98,187.75 L463.12,187.70 L463.27,187.66 L463.41,187.61 L463.56,187.56 L463.71,187.51 L463.85,187.46 L464.00,187.40 L464.16,187.34 L464.33,187.28 L464.50,187.21 L464.67,187.15 L464.84,187.09 L465.01,187.02 L465.18,186.95 L465.36,186.89 L465.53,186.82 L465.70,186.75 L465.87,186.67 L466.04,186.60 L466.21,186.52 L466.38,186.44 L466.54,186.36 L466.70,186.27 L466.86,186.18 L467.01,186.09 L467.16,186.00 L467.30,185.90 L467.43,185.81 L467.56,185.71 L467.68,185.61 L467.81,185.51 L467.93,185.40 L468.05,185.29 L468.16,185.19 L468.28,185.07 L468.39,184.96 L468.50,184.85 L468.61,184.73 L468.71,184.61 L468.82,184.49 L468.92,184.37 L469.02,184.24 L469.12,184.12 L469.22,183.99 L469.31,183.86 L469.41,183.73 L469.50,183.60 L469.59,183.46 L469.68,183.32 L469.77,183.18 L469.86,183.03 L469.94,182.89 L470.02,182.74 L470.10,182.59 L470.17,182.44 L470.25,182.28 L470.32,182.13 L470.39,181.97 L470.46,181.81 L470.53,181.65 L470.60,181.49 L470.67,181.33 L470.73,181.17 L470.80,181.00 L470.87,180.84 L470.93,180.67 L471.00,180.50 L471.07,180.31 L471.15,180.12 L471.22,179.93 L471.28,179.74 L471.35,179.54 L471.42,179.35 L471.48,179.15 L471.54,178.95 L471.61,178.75 L471.67,178.55 L471.73,178.34 L471.79,178.14 L471.85,177.93 L471.92,177.72 L471.98,177.50 L472.04,177.29 L472.10,177.07 L472.17,176.85 L472.23,176.63 L472.30,176.40 L472.38,176.12 L472.46,175.84 L472.55,175.55 L472.63,175.25 L472.71,174.96 L472.80,174.66 L472.88,174.35 L472.97,174.05 L473.05,173.74 L473.14,173.42 L473.22,173.11 L473.31,172.79 L473.39,172.47 L473.48,172.15 L473.57,171.83 L473.65,171.50 L473.74,171.18 L473.83,170.85 L473.91,170.53 L474.00,170.20 L474.10,169.84 L474.20,169.47 L474.29,169.10 L474.39,168.73 L474.49,168.36 L474.59,167.98 L474.69,167.61 L474.79,167.23 L474.89,166.85 L474.99,166.47 L475.09,166.08 L475.19,165.70 L475.29,165.31 L475.39,164.91 L475.50,164.52 L475.60,164.12 L475.70,163.72 L475.80,163.32 L475.90,162.91 L476.00,162.50 L476.11,162.03 L476.23,161.55 L476.34,161.07 L476.46,160.58 L476.57,160.09 L476.69,159.59 L476.80,159.09 L476.92,158.58 L477.04,158.08 L477.15,157.57 L477.27,157.06 L477.38,156.55 L477.50,156.03 L477.61,155.52 L477.73,155.01 L477.84,154.50 L477.96,154.00 L478.07,153.50 L478.19,153.00 L478.30,152.50 L478.41,152.02 L478.52,151.54 L478.63,151.07 L478.74,150.59 L478.85,150.12 L478.96,149.65 L479.07,149.18 L479.18,148.71 L479.29,148.24 L479.40,147.77 L479.51,147.29 L479.62,146.82 L479.73,146.35 L479.84,145.88 L479.95,145.40 L480.06,144.93 L480.17,144.45 L480.28,143.97 L480.39,143.49 L480.50,143.00 L480.62,142.49 L480.73,141.97 L480.84,141.45 L480.96,140.93 L481.07,140.41 L481.19,139.89 L481.30,139.36 L481.42,138.84 L481.53,138.31 L481.64,137.78 L481.76,137.25 L481.87,136.73 L481.99,136.20 L482.10,135.67 L482.22,135.14 L482.33,134.61 L482.45,134.08 L482.57,133.55 L482.68,133.03 L482.80,132.50 L482.92,131.97 L483.04,131.45 L483.15,130.92 L483.27,130.40 L483.39,129.87 L483.51,129.35 L483.63,128.82 L483.75,128.30 L483.87,127.77 L483.99,127.25 L484.11,126.72 L484.24,126.20 L484.36,125.67 L484.48,125.15 L484.60,124.62 L484.72,124.10 L484.84,123.57 L484.96,123.05 L485.08,122.52 L485.20,122.00 L485.32,121.48 L485.44,120.96 L485.55,120.44 L485.67,119.93 L485.78,119.42 L485.89,118.91 L486.00,118.40 L486.12,117.89 L486.23,117.38 L486.34,116.86 L486.46,116.35 L486.57,115.83 L486.69,115.31 L486.81,114.78 L486.94,114.25 L487.06,113.72 L487.19,113.17 L487.32,112.62 L487.46,112.07 L487.60,111.50 L487.78,110.81 L487.96,110.11 L488.14,109.39 L488.33,108.67 L488.53,107.94 L488.73,107.20 L488.94,106.45 L489.14,105.70 L489.35,104.94 L489.56,104.18 L489.78,103.41 L489.99,102.64 L490.21,101.87 L490.43,101.10 L490.64,100.33 L490.86,99.56 L491.07,98.79 L491.28,98.02 L491.49,97.26 L491.70,96.50 L491.91,95.73 L492.12,94.96 L492.33,94.18 L492.53,93.40 L492.74,92.62 L492.95,91.84 L493.16,91.06 L493.37,90.28 L493.58,89.50 L493.78,88.71 L493.99,87.93 L494.20,87.15 L494.41,86.37 L494.62,85.60 L494.83,84.82 L495.05,84.05 L495.26,83.28 L495.47,82.52 L495.69,81.76 L495.90,81.00 L496.10,80.28 L496.31,79.56 L496.51,78.83 L496.72,78.11 L496.92,77.39 L497.12,76.66 L497.33,75.94 L497.53,75.22 L497.74,74.50 L497.94,73.79 L498.15,73.08 L498.36,72.38 L498.57,71.68 L498.78,70.99 L498.99,70.30 L499.21,69.62 L499.43,68.95 L499.65,68.29 L499.87,67.64 L500.10,67.00 L500.30,66.46 L500.50,65.92 L500.70,65.38 L500.90,64.85 L501.10,64.33 L501.30,63.81 L501.51,63.29 L501.71,62.78 L501.92,62.28 L502.13,61.78 L502.34,61.28 L502.55,60.79 L502.77,60.30 L502.98,59.82 L503.20,59.34 L503.42,58.86 L503.64,58.39 L503.86,57.92 L504.08,57.46 L504.30,57.00 L504.50,56.59 L504.70,56.19 L504.89,55.79 L505.09,55.39 L505.29,54.99 L505.48,54.60 L505.68,54.21 L505.88,53.82 L506.08,53.44 L506.29,53.06 L506.49,52.69 L506.70,52.31 L506.91,51.95 L507.12,51.58 L507.34,51.23 L507.56,50.87 L507.79,50.52 L508.02,50.18 L508.26,49.84 L508.50,49.50 L508.73,49.19 L508.97,48.88 L509.21,48.57 L509.46,48.26 L509.71,47.95 L509.97,47.64 L510.23,47.34 L510.49,47.05 L510.75,46.75 L511.02,46.47 L511.28,46.19 L511.55,45.91 L511.82,45.64 L512.09,45.38 L512.36,45.13 L512.63,44.88 L512.90,44.65 L513.17,44.42 L513.44,44.20 L513.70,44.00 L513.91,43.85 L514.12,43.70 L514.33,43.55 L514.55,43.42 L514.76,43.29 L514.98,43.16 L515.20,43.04 L515.41,42.92 L515.63,42.81 L515.84,42.70 L516.06,42.59 L516.27,42.49 L516.49,42.40 L516.70,42.30 L516.90,42.21 L517.11,42.13 L517.31,42.04 L517.51,41.96 L517.71,41.88 L517.90,41.80 L518.05,41.74 L518.19,41.69 L518.33,41.64 L518.47,41.59 L518.61,41.55 L518.74,41.50 L518.88,41.46 L519.01,41.42 L519.15,41.39 L519.28,41.35 L519.41,41.32 L519.54,41.28 L519.67,41.25 L519.80,41.22 L519.94,41.18 L520.07,41.15 L520.20,41.11 L520.33,41.08 L520.47,41.04 L520.60,41.00" fill="none" stroke="#000000" stroke-width="1.8" stroke-linecap="round" stroke-linejoin="round"/>
<path d="M395.40,100.50 L395.73,100.55 L396.06,100.61 L396.39,100.66 L396.72,100.71 L397.05,100.76 L397.38,100.81 L397.72,100.86 L398.05,100.91 L398.38,100.96 L398.71,101.01 L399.04,101.06 L399.37,101.11 L399.70,101.16 L400.03,101.22 L400.36,101.28 L400.69,101.34 L401.02,101.40 L401.35,101.46 L401.67,101.53 L402.00,101.60 L402.33,101.67 L402.66,101.75 L402.98,101.82 L403.31,101.90 L403.64,101.98 L403.97,102.05 L404.29,102.13 L404.62,102.22 L404.94,102.30 L405.27,102.39 L405.59,102.48 L405.92,102.57 L406.24,102.66 L406.57,102.76 L406.89,102.86 L407.21,102.96 L407.54,103.06 L407.86,103.17 L408.18,103.28 L408.50,103.40 L408.83,103.52 L409.16,103.65 L409.50,103.78 L409.84,103.91 L410.17,104.05 L410.51,104.19 L410.85,104.33 L411.19,104.47 L411.52,104.62 L411.86,104.77 L412.19,104.93 L412.52,105.08 L412.84,105.24 L413.17,105.40 L413.49,105.56 L413.80,105.73 L414.11,105.89 L414.41,106.06 L414.71,106.23 L415.00,106.40 L415.25,106.55 L415.50,106.71 L415.74,106.87 L415.98,107.03 L416.22,107.19 L416.45,107.35 L416.68,107.52 L416.91,107.68 L417.13,107.85 L417.36,108.02 L417.58,108.19 L417.79,108.36 L418.01,108.54 L418.22,108.71 L418.44,108.89 L418.65,109.07 L418.86,109.25 L419.08,109.43 L419.29,109.62 L419.50,109.80 L419.71,109.99 L419.92,110.17 L420.13,110.36 L420.34,110.55 L420.54,110.73 L420.75,110.92 L420.95,111.12 L421.15,111.31 L421.35,111.50 L421.55,111.70 L421.75,111.90 L421.94,112.10 L422.14,112.30 L422.34,112.51 L422.53,112.72 L422.73,112.93 L422.92,113.14 L423.11,113.36 L423.31,113.58 L423.50,113.80 L423.71,114.05 L423.93,114.31 L424.14,114.57 L424.35,114.83 L424.55,115.09 L424.76,115.36 L424.97,115.64 L425.18,115.91 L425.38,116.19 L425.59,116.47 L425.79,116.76 L425.99,117.04 L426.19,117.33 L426.40,117.62 L426.60,117.91 L426.80,118.21 L427.00,118.50 L427.20,118.80 L427.40,119.10 L427.60,119.40 L427.82,119.73 L428.03,120.06 L428.25,120.39 L428.46,120.73 L428.68,121.07 L428.89,121.41 L429.10,121.75 L429.31,122.10 L429.53,122.44 L429.74,122.79 L429.95,123.15 L430.16,123.50 L430.36,123.86 L430.57,124.22 L430.78,124.58 L430.98,124.94 L431.19,125.30 L431.39,125.67 L431.60,126.03 L431.80,126.40 L432.01,126.79 L432.23,127.18 L432.44,127.58 L432.65,127.98 L432.85,128.38 L433.06,128.78 L433.27,129.19 L433.47,129.60 L433.68,130.00 L433.88,130.41 L434.09,130.83 L434.29,131.24 L434.49,131.66 L434.69,132.07 L434.90,132.49 L435.10,132.91 L435.30,133.33 L435.50,133.75 L435.70,134.18 L435.90,134.60 L436.11,135.05 L436.32,135.49 L436.53,135.95 L436.73,136.40 L436.94,136.86 L437.15,137.31 L437.35,137.77 L437.56,138.23 L437.76,138.70 L437.97,139.16 L438.17,139.62 L438.38,140.09 L438.58,140.55 L438.78,141.02 L438.99,141.48 L439.19,141.95 L439.39,142.41 L439.59,142.88 L439.80,143.34 L440.00,143.80 L440.20,144.26 L440.40,144.72 L440.61,145.18 L440.81,145.64 L441.01,146.09 L441.21,146.55 L441.41,147.01 L441.61,147.47 L441.81,147.93 L442.01,148.39 L442.21,148.85 L442.41,149.31 L442.61,149.77 L442.81,150.23 L443.01,150.69 L443.20,151.15 L443.40,151.61 L443.60,152.07 L443.80,152.54 L444.00,153.00 L444.20,153.47 L444.40,153.95 L444.60,154.43 L444.80,154.91 L445.01,155.39 L445.21,155.88 L445.41,156.37 L445.61,156.85 L445.81,157.34 L446.01,157.82 L446.21,158.31 L446.41,158.79 L446.61,159.27 L446.81,159.74 L447.01,160.22 L447.20,160.68 L447.40,161.15 L447.60,161.60 L447.80,162.06 L448.00,162.50 L448.18,162.89 L448.35,163.28 L448.52,163.66 L448.70,164.04 L448.87,164.42 L449.04,164.79 L449.22,165.17 L449.39,165.54 L449.56,165.90 L449.73,166.27 L449.91,166.63 L450.08,166.99 L450.26,167.35 L450.43,167.71 L450.61,168.06 L450.78,168.41 L450.96,168.76 L451.14,169.11 L451.32,169.46 L451.50,169.80 L451.67,170.12 L451.84,170.43 L452.01,170.75 L452.18,171.06 L452.35,171.37 L452.52,171.68 L452.70,171.98 L452.87,172.29 L453.04,172.59 L453.22,172.89 L453.39,173.19 L453.57,173.48 L453.75,173.78 L453.92,174.07 L454.10,174.37 L454.28,174.66 L454.46,174.94 L454.64,175.23 L454.82,175.52 L455.00,175.80 L455.17,176.06 L455.34,176.33 L455.51,176.59 L455.68,176.86 L455.85,177.12 L456.02,177.38 L456.19,177.64 L456.37,177.90 L456.54,178.15 L456.71,178.41 L456.89,178.66 L457.06,178.91 L457.24,179.15 L457.42,179.40 L457.59,179.64 L457.77,179.88 L457.95,180.11 L458.13,180.35 L458.32,180.58 L458.50,180.80 L458.67,181.00 L458.84,181.20 L459.00,181.40 L459.17,181.60 L459.34,181.79 L459.51,181.99 L459.69,182.18 L459.86,182.37 L460.03,182.55 L460.21,182.74 L460.38,182.92 L460.56,183.10 L460.73,183.27 L460.91,183.45 L461.09,183.61 L461.27,183.78 L461.45,183.94 L461.63,184.10 L461.82,184.25 L462.00,184.40 L462.17,184.53 L462.34,184.66 L462.51,184.78 L462.68,184.91 L462.85,185.03 L463.02,185.14 L463.19,185.26 L463.37,185.37 L463.54,185.48 L463.72,185.58 L463.89,185.69 L464.07,185.79 L464.25,185.89 L464.42,185.98 L464.60,186.08 L464.78,186.17 L464.96,186.25 L465.14,186.34 L465.32,186.42 L465.50,186.50 L465.67,186.57 L465.84,186.64 L466.01,186.71 L466.19,186.77 L466.36,186.83 L466.53,186.89 L466.71,186.95 L466.88,187.00 L467.06,187.05 L467.23,187.10 L467.41,187.15 L467.58,187.20 L467.76,187.24 L467.94,187.28 L468.11,187.32 L468.29,187.36 L468.47,187.40 L468.64,187.43 L468.82,187.47 L469.00,187.50 L469.18,187.53 L469.36,187.56 L469.54,187.59 L469.72,187.62 L469.90,187.65 L470.09,187.68 L470.27,187.70 L470.45,187.72 L470.64,187.74 L470.82,187.76 L471.00,187.78 L471.19,187.79 L471.37,187.81 L471.55,187.81 L471.73,187.82 L471.91,187.82 L472.08,187.82 L472.26,187.82 L472.43,187.81 L472.60,187.80 L472.75,187.79 L472.91,187.77 L473.06,187.76 L473.21,187.74 L473.36,187.72 L473.52,187.69 L473.67,187.67 L473.82,187.64 L473.96,187.61 L474.11,187.58 L474.26,187.54 L474.40,187.50 L474.55,187.46 L474.69,187.42 L474.83,187.37 L474.97,187.32 L475.10,187.27 L475.24,187.22 L475.37,187.16 L475.50,187.10 L475.62,187.04 L475.75,186.98 L475.87,186.91 L475.99,186.84 L476.11,186.77 L476.22,186.70 L476.34,186.62 L476.46,186.55 L476.57,186.47 L476.68,186.38 L476.79,186.30 L476.90,186.21 L477.00,186.12 L477.11,186.02 L477.21,185.93 L477.31,185.83 L477.41,185.72 L477.51,185.62 L477.61,185.51 L477.70,185.40 L477.81,185.27 L477.91,185.13 L478.01,184.98 L478.11,184.83 L478.20,184.68 L478.29,184.52 L478.38,184.35 L478.47,184.19 L478.55,184.02 L478.64,183.85 L478.72,183.67 L478.80,183.49 L478.88,183.31 L478.95,183.13 L479.03,182.94 L479.10,182.76 L479.18,182.57 L479.25,182.38 L479.33,182.19 L479.40,182.00 L479.48,181.78 L479.57,181.55 L479.65,181.32 L479.72,181.08 L479.80,180.84 L479.87,180.60 L479.94,180.36 L480.01,180.11 L480.08,179.86 L480.15,179.61 L480.22,179.36 L480.28,179.10 L480.35,178.85 L480.41,178.59 L480.48,178.33 L480.54,178.06 L480.60,177.80 L480.67,177.53 L480.73,177.27 L480.80,177.00 L480.87,176.70 L480.95,176.39 L481.02,176.08 L481.09,175.76 L481.16,175.45 L481.23,175.13 L481.29,174.81 L481.36,174.49 L481.43,174.16 L481.50,173.83 L481.56,173.51 L481.63,173.18 L481.70,172.84 L481.77,172.51 L481.84,172.18 L481.91,171.84 L481.98,171.51 L482.05,171.17 L482.12,170.84 L482.20,170.50 L482.28,170.14 L482.37,169.77 L482.45,169.40 L482.54,169.03 L482.63,168.66 L482.72,168.28 L482.81,167.90 L482.90,167.52 L482.99,167.15 L483.08,166.77 L483.17,166.39 L483.26,166.01 L483.35,165.63 L483.45,165.25 L483.54,164.87 L483.63,164.49 L483.72,164.12 L483.82,163.74 L483.91,163.37 L484.00,163.00 L484.09,162.64 L484.18,162.29 L484.27,161.94 L484.36,161.58 L484.45,161.23 L484.54,160.88 L484.63,160.53 L484.72,160.18 L484.81,159.83 L484.90,159.48 L484.99,159.14 L485.08,158.79 L485.17,158.44 L485.26,158.09 L485.35,157.74 L485.44,157.40 L485.53,157.05 L485.62,156.70 L485.71,156.35 L485.80,156.00 L485.89,155.65 L485.98,155.31 L486.07,154.96 L486.16,154.62 L486.24,154.28 L486.33,153.95 L486.42,153.61 L486.51,153.27 L486.60,152.93 L486.69,152.59 L486.77,152.25 L486.86,151.90 L486.95,151.56 L487.04,151.21 L487.13,150.85 L487.23,150.49 L487.32,150.13 L487.41,149.76 L487.51,149.38 L487.60,149.00 L487.72,148.52 L487.83,148.04 L487.95,147.55 L488.07,147.06 L488.19,146.55 L488.31,146.05 L488.43,145.53 L488.56,145.01 L488.68,144.49 L488.80,143.96 L488.93,143.43 L489.06,142.89 L489.18,142.35 L489.31,141.81 L489.44,141.26 L489.57,140.71 L489.70,140.16 L489.83,139.61 L489.97,139.06 L490.10,138.50 L490.25,137.87 L490.41,137.23 L490.56,136.59 L490.72,135.94 L490.88,135.29 L491.04,134.63 L491.20,133.97 L491.36,133.31 L491.53,132.64 L491.69,131.97 L491.86,131.29 L492.03,130.62 L492.20,129.94 L492.37,129.26 L492.54,128.58 L492.71,127.90 L492.88,127.23 L493.05,126.55 L493.23,125.87 L493.40,125.20 L493.58,124.51 L493.76,123.81 L493.95,123.10 L494.14,122.39 L494.32,121.69 L494.51,120.97 L494.70,120.26 L494.90,119.55 L495.09,118.83 L495.28,118.12 L495.48,117.41 L495.67,116.70 L495.86,115.99 L496.06,115.29 L496.25,114.60 L496.44,113.90 L496.63,113.22 L496.82,112.54 L497.01,111.86 L497.20,111.20 L497.37,110.61 L497.53,110.03 L497.69,109.45 L497.86,108.87 L498.02,108.30 L498.18,107.73 L498.34,107.17 L498.50,106.60 L498.66,106.05 L498.82,105.49 L498.98,104.94 L499.14,104.38 L499.31,103.83 L499.47,103.29 L499.64,102.74 L499.80,102.19 L499.97,101.64 L500.15,101.10 L500.32,100.55 L500.50,100.00 L500.68,99.46 L500.85,98.92 L501.03,98.38 L501.21,97.84 L501.39,97.29 L501.57,96.75 L501.75,96.21 L501.93,95.67 L502.11,95.13 L502.30,94.59 L502.49,94.06 L502.68,93.53 L502.87,93.00 L503.06,92.48 L503.26,91.97 L503.46,91.46 L503.67,90.96 L503.87,90.46 L504.09,89.98 L504.30,89.50 L504.49,89.09 L504.68,88.67 L504.87,88.27 L505.06,87.86 L505.25,87.46 L505.45,87.06 L505.64,86.66 L505.84,86.27 L506.04,85.88 L506.25,85.50 L506.45,85.12 L506.66,84.75 L506.88,84.38 L507.09,84.02 L507.32,83.67 L507.54,83.32 L507.77,82.98 L508.01,82.65 L508.25,82.32 L508.50,82.00 L508.73,81.72 L508.97,81.44 L509.21,81.17 L509.46,80.90 L509.71,80.63 L509.96,80.37 L510.22,80.12 L510.49,79.87 L510.75,79.62 L511.02,79.38 L511.29,79.15 L511.56,78.92 L511.83,78.69 L512.10,78.48 L512.37,78.26 L512.64,78.06 L512.91,77.86 L513.18,77.67 L513.44,77.48 L513.70,77.30 L513.91,77.16 L514.13,77.02 L514.34,76.88 L514.56,76.75 L514.77,76.63 L514.99,76.50 L515.20,76.38 L515.42,76.27 L515.64,76.16 L515.85,76.05 L516.06,75.95 L516.28,75.85 L516.49,75.75 L516.70,75.66 L516.90,75.57 L517.11,75.49 L517.31,75.41 L517.51,75.34 L517.71,75.27 L517.90,75.20 L518.05,75.15 L518.19,75.11 L518.33,75.07 L518.47,75.04 L518.61,75.01 L518.74,74.98 L518.88,74.95 L519.01,74.93 L519.15,74.91 L519.28,74.89 L519.41,74.87 L519.54,74.85 L519.67,74.84 L519.80,74.82 L519.94,74.80 L520.07,74.78 L520.20,74.77 L520.33,74.75 L520.47,74.72 L520.60,74.70" fill="none" stroke="#0000ff" stroke-width="1.8" stroke-linecap="round" stroke-linejoin="round"/>
<rect x="323.50" y="10.50" width="221.00" height="178.00" fill="none" stroke="#444" stroke-width="1.05"/>
<line x1="323.50" y1="188.50" x2="323.50" y2="191.70" stroke="#444" stroke-width="1.05"/>
<text x="323.50" y="200.00" class="tk" text-anchor="middle">15</text>
<line x1="345.60" y1="188.50" x2="345.60" y2="190.30" stroke="#444" stroke-width="1.05"/>
<line x1="367.70" y1="188.50" x2="367.70" y2="191.70" stroke="#444" stroke-width="1.05"/>
<text x="367.70" y="200.00" class="tk" text-anchor="middle">20</text>
<line x1="389.80" y1="188.50" x2="389.80" y2="190.30" stroke="#444" stroke-width="1.05"/>
<line x1="411.90" y1="188.50" x2="411.90" y2="191.70" stroke="#444" stroke-width="1.05"/>
<text x="411.90" y="200.00" class="tk" text-anchor="middle">25</text>
<line x1="434.00" y1="188.50" x2="434.00" y2="190.30" stroke="#444" stroke-width="1.05"/>
<line x1="456.10" y1="188.50" x2="456.10" y2="191.70" stroke="#444" stroke-width="1.05"/>
<text x="456.10" y="200.00" class="tk" text-anchor="middle">30</text>
<line x1="478.20" y1="188.50" x2="478.20" y2="190.30" stroke="#444" stroke-width="1.05"/>
<line x1="500.30" y1="188.50" x2="500.30" y2="191.70" stroke="#444" stroke-width="1.05"/>
<text x="500.30" y="200.00" class="tk" text-anchor="middle">35</text>
<line x1="522.40" y1="188.50" x2="522.40" y2="190.30" stroke="#444" stroke-width="1.05"/>
<line x1="544.50" y1="188.50" x2="544.50" y2="191.70" stroke="#444" stroke-width="1.05"/>
<text x="544.50" y="200.00" class="tk" text-anchor="middle">40</text>
<line x1="323.50" y1="188.50" x2="320.30" y2="188.50" stroke="#444" stroke-width="1.05"/>
<text x="317.90" y="190.70" class="tk" text-anchor="end">0</text>
<line x1="323.50" y1="176.63" x2="321.70" y2="176.63" stroke="#444" stroke-width="1.05"/>
<line x1="323.50" y1="164.77" x2="320.30" y2="164.77" stroke="#444" stroke-width="1.05"/>
<text x="317.90" y="166.97" class="tk" text-anchor="end">200</text>
<line x1="323.50" y1="152.90" x2="321.70" y2="152.90" stroke="#444" stroke-width="1.05"/>
<line x1="323.50" y1="141.03" x2="320.30" y2="141.03" stroke="#444" stroke-width="1.05"/>
<text x="317.90" y="143.23" class="tk" text-anchor="end">400</text>
<line x1="323.50" y1="129.17" x2="321.70" y2="129.17" stroke="#444" stroke-width="1.05"/>
<line x1="323.50" y1="117.30" x2="320.30" y2="117.30" stroke="#444" stroke-width="1.05"/>
<text x="317.90" y="119.50" class="tk" text-anchor="end">600</text>
<line x1="323.50" y1="105.43" x2="321.70" y2="105.43" stroke="#444" stroke-width="1.05"/>
<line x1="323.50" y1="93.57" x2="320.30" y2="93.57" stroke="#444" stroke-width="1.05"/>
<text x="317.90" y="95.77" class="tk" text-anchor="end">800</text>
<line x1="323.50" y1="81.70" x2="321.70" y2="81.70" stroke="#444" stroke-width="1.05"/>
<line x1="323.50" y1="69.83" x2="320.30" y2="69.83" stroke="#444" stroke-width="1.05"/>
<text x="317.90" y="72.03" class="tk" text-anchor="end">1000</text>
<line x1="323.50" y1="57.97" x2="321.70" y2="57.97" stroke="#444" stroke-width="1.05"/>
<line x1="323.50" y1="46.10" x2="320.30" y2="46.10" stroke="#444" stroke-width="1.05"/>
<text x="317.90" y="48.30" class="tk" text-anchor="end">1200</text>
<line x1="323.50" y1="34.23" x2="321.70" y2="34.23" stroke="#444" stroke-width="1.05"/>
<line x1="323.50" y1="22.37" x2="320.30" y2="22.37" stroke="#444" stroke-width="1.05"/>
<text x="317.90" y="24.57" class="tk" text-anchor="end">1400</text>
<line x1="323.50" y1="10.50" x2="321.70" y2="10.50" stroke="#444" stroke-width="1.05"/>
<text x="434.00" y="215.10" class="lab" text-anchor="middle">Voltage (V)</text>
<text x="0" y="0" class="lab" text-anchor="middle" transform="translate(296.80,98.70) rotate(-90)">Energy (Wh)</text>
<line x1="334.90" y1="18.75" x2="354.80" y2="18.75" stroke="#000000" stroke-width="1.9" stroke-linecap="round"/>
<text x="357.70" y="22.05" class="leg">2 kW &amp; 3 kW</text>
<line x1="334.90" y1="30.00" x2="354.80" y2="30.00" stroke="#0000ff" stroke-width="1.9" stroke-linecap="round"/>
<text x="357.70" y="33.30" class="leg">3 kW &amp; 4.5 kW</text>
<text x="422.50" y="236.80" class="cap" text-anchor="middle">(<tspan font-weight="bold">b</tspan>)</text>
<path d="M207.20,309.90 L208.35,309.92 L209.50,309.94 L210.66,309.96 L211.83,309.98 L213.00,310.00 L214.18,310.02 L215.35,310.04 L216.53,310.06 L217.70,310.07 L218.87,310.09 L220.04,310.11 L221.20,310.13 L222.34,310.15 L223.48,310.17 L224.61,310.19 L225.72,310.21 L226.82,310.23 L227.90,310.26 L228.96,310.28 L230.00,310.30 L230.84,310.32 L231.68,310.34 L232.50,310.35 L233.32,310.37 L234.12,310.39 L234.92,310.41 L235.71,310.43 L236.49,310.45 L237.27,310.47 L238.04,310.49 L238.80,310.51 L239.56,310.53 L240.32,310.55 L241.07,310.57 L241.81,310.59 L242.55,310.61 L243.29,310.63 L244.03,310.65 L244.77,310.68 L245.50,310.70 L246.16,310.72 L246.83,310.74 L247.49,310.76 L248.16,310.78 L248.83,310.80 L249.49,310.82 L250.16,310.84 L250.82,310.86 L251.47,310.88 L252.12,310.90 L252.76,310.93 L253.39,310.95 L254.02,310.98 L254.63,311.00 L255.23,311.03 L255.81,311.06 L256.39,311.09 L256.94,311.13 L257.48,311.16 L258.00,311.20 L258.35,311.23 L258.69,311.26 L259.02,311.29 L259.34,311.32 L259.66,311.35 L259.96,311.38 L260.26,311.41 L260.56,311.44 L260.85,311.48 L261.14,311.51 L261.42,311.55 L261.71,311.58 L261.99,311.62 L262.27,311.66 L262.55,311.70 L262.84,311.74 L263.12,311.78 L263.41,311.82 L263.70,311.86 L264.00,311.90 L264.30,311.94 L264.60,311.99 L264.90,312.04 L265.20,312.09 L265.50,312.14 L265.80,312.19 L266.10,312.24 L266.40,312.29 L266.70,312.35 L267.00,312.40 L267.30,312.45 L267.60,312.51 L267.90,312.56 L268.20,312.61 L268.50,312.66 L268.80,312.71 L269.10,312.76 L269.40,312.81 L269.70,312.86 L270.00,312.90 L270.30,312.94 L270.61,312.98 L270.92,313.02 L271.23,313.06 L271.54,313.09 L271.86,313.12 L272.17,313.16 L272.48,313.19 L272.80,313.22 L273.11,313.25 L273.42,313.28 L273.73,313.32 L274.04,313.35 L274.34,313.38 L274.64,313.41 L274.94,313.45 L275.24,313.48 L275.53,313.52 L275.82,313.56 L276.10,313.60 L276.34,313.63 L276.57,313.67 L276.81,313.70 L277.04,313.74 L277.27,313.77 L277.49,313.80 L277.72,313.84 L277.94,313.87 L278.16,313.91 L278.38,313.94 L278.60,313.98 L278.82,314.02 L279.03,314.06 L279.25,314.10 L279.46,314.14 L279.67,314.19 L279.88,314.24 L280.09,314.29 L280.29,314.34 L280.50,314.40 L280.69,314.45 L280.87,314.51 L281.06,314.57 L281.24,314.63 L281.42,314.69 L281.60,314.75 L281.78,314.81 L281.96,314.87 L282.14,314.94 L282.31,315.01 L282.49,315.08 L282.66,315.15 L282.83,315.22 L283.00,315.30 L283.17,315.38 L283.34,315.46 L283.51,315.54 L283.67,315.62 L283.84,315.71 L284.00,315.80 L284.16,315.89 L284.32,315.99 L284.48,316.08 L284.64,316.18 L284.80,316.29 L284.95,316.39 L285.11,316.50 L285.26,316.61 L285.41,316.72 L285.57,316.83 L285.72,316.94 L285.86,317.06 L286.01,317.17 L286.16,317.29 L286.30,317.41 L286.44,317.52 L286.59,317.64 L286.73,317.76 L286.86,317.88 L287.00,318.00 L287.13,318.11 L287.25,318.22 L287.37,318.34 L287.49,318.45 L287.61,318.56 L287.72,318.67 L287.83,318.79 L287.95,318.90 L288.06,319.02 L288.17,319.13 L288.28,319.25 L288.39,319.37 L288.50,319.49 L288.61,319.61 L288.72,319.74 L288.83,319.87 L288.95,319.99 L289.06,320.13 L289.18,320.26 L289.30,320.40 L289.45,320.58 L289.61,320.76 L289.76,320.94 L289.92,321.13 L290.08,321.32 L290.24,321.52 L290.40,321.71 L290.56,321.92 L290.72,322.12 L290.88,322.33 L291.04,322.53 L291.21,322.75 L291.37,322.96 L291.53,323.18 L291.70,323.39 L291.86,323.61 L292.02,323.83 L292.18,324.05 L292.34,324.28 L292.50,324.50 L292.68,324.75 L292.86,325.01 L293.04,325.27 L293.22,325.54 L293.40,325.80 L293.58,326.07 L293.76,326.35 L293.94,326.62 L294.12,326.90 L294.29,327.18 L294.47,327.46 L294.65,327.74 L294.83,328.03 L295.00,328.31 L295.17,328.59 L295.34,328.87 L295.51,329.16 L295.68,329.44 L295.84,329.72 L296.00,330.00 L296.15,330.27 L296.31,330.55 L296.45,330.82 L296.60,331.10 L296.75,331.38 L296.89,331.66 L297.03,331.94 L297.18,332.22 L297.32,332.50 L297.45,332.78 L297.59,333.05 L297.73,333.33 L297.86,333.61 L298.00,333.89 L298.13,334.16 L298.27,334.43 L298.40,334.70 L298.53,334.97 L298.67,335.24 L298.80,335.50 L298.92,335.73 L299.04,335.96 L299.15,336.18 L299.26,336.40 L299.37,336.61 L299.48,336.83 L299.59,337.04 L299.70,337.24 L299.81,337.45 L299.92,337.66 L300.03,337.88 L300.14,338.09 L300.25,338.31 L300.36,338.53 L300.48,338.76 L300.60,338.99 L300.72,339.23 L300.84,339.48 L300.97,339.73 L301.10,340.00 L301.30,340.41 L301.51,340.84 L301.73,341.28 L301.95,341.74 L302.18,342.22 L302.41,342.70 L302.65,343.20 L302.89,343.71 L303.14,344.22 L303.38,344.74 L303.63,345.27 L303.88,345.80 L304.13,346.33 L304.38,346.87 L304.62,347.40 L304.86,347.93 L305.11,348.46 L305.34,348.98 L305.57,349.49 L305.80,350.00 L306.02,350.50 L306.24,351.00 L306.46,351.49 L306.68,351.99 L306.90,352.49 L307.11,352.99 L307.33,353.49 L307.54,353.99 L307.76,354.49 L307.97,354.99 L308.18,355.49 L308.39,355.99 L308.60,356.49 L308.80,356.99 L309.01,357.49 L309.21,357.99 L309.41,358.49 L309.61,358.99 L309.81,359.50 L310.00,360.00 L310.19,360.50 L310.38,361.00 L310.56,361.49 L310.74,361.99 L310.92,362.49 L311.10,362.99 L311.28,363.49 L311.46,363.99 L311.63,364.49 L311.80,364.99 L311.97,365.49 L312.14,365.99 L312.31,366.49 L312.48,366.99 L312.65,367.50 L312.82,368.00 L312.99,368.50 L313.16,369.00 L313.33,369.50 L313.50,370.00 L313.67,370.50 L313.84,371.00 L314.01,371.51 L314.18,372.02 L314.35,372.52 L314.52,373.03 L314.69,373.54 L314.85,374.05 L315.02,374.56 L315.19,375.07 L315.35,375.57 L315.52,376.08 L315.68,376.58 L315.85,377.08 L316.01,377.58 L316.17,378.07 L316.33,378.56 L316.49,379.04 L316.64,379.52 L316.80,380.00 L316.94,380.42 L317.07,380.84 L317.21,381.25 L317.34,381.67 L317.47,382.08 L317.61,382.48 L317.74,382.89 L317.87,383.29 L317.99,383.69 L318.12,384.09 L318.25,384.49 L318.38,384.88 L318.51,385.28 L318.63,385.67 L318.76,386.06 L318.89,386.45 L319.02,386.84 L319.14,387.23 L319.27,387.61 L319.40,388.00 L319.52,388.36 L319.64,388.72 L319.76,389.07 L319.88,389.42 L320.00,389.77 L320.12,390.11 L320.24,390.46 L320.36,390.80 L320.47,391.14 L320.59,391.49 L320.71,391.83 L320.83,392.17 L320.95,392.52 L321.07,392.86 L321.19,393.21 L321.31,393.56 L321.43,393.92 L321.55,394.27 L321.68,394.63 L321.80,395.00 L321.94,395.41 L322.07,395.82 L322.21,396.23 L322.35,396.66 L322.49,397.08 L322.63,397.51 L322.77,397.94 L322.90,398.37 L323.05,398.80 L323.19,399.23 L323.33,399.67 L323.47,400.10 L323.61,400.53 L323.75,400.97 L323.89,401.40 L324.03,401.82 L324.17,402.25 L324.32,402.67 L324.46,403.09 L324.60,403.50 L324.73,403.89 L324.87,404.27 L325.00,404.66 L325.13,405.04 L325.27,405.42 L325.40,405.81 L325.53,406.19 L325.67,406.57 L325.80,406.94 L325.94,407.32 L326.07,407.69 L326.20,408.07 L326.34,408.44 L326.48,408.81 L326.61,409.18 L326.75,409.55 L326.88,409.91 L327.02,410.28 L327.16,410.64 L327.30,411.00 L327.43,411.34 L327.56,411.68 L327.69,412.02 L327.82,412.35 L327.95,412.69 L328.08,413.03 L328.21,413.36 L328.34,413.70 L328.47,414.03 L328.60,414.36 L328.73,414.69 L328.86,415.01 L329.00,415.34 L329.14,415.66 L329.27,415.97 L329.41,416.29 L329.56,416.60 L329.70,416.90 L329.85,417.20 L330.00,417.50 L330.14,417.76 L330.27,418.03 L330.41,418.29 L330.55,418.54 L330.69,418.80 L330.83,419.05 L330.98,419.31 L331.12,419.56 L331.26,419.80 L331.41,420.05 L331.56,420.29 L331.71,420.52 L331.86,420.76 L332.02,420.99 L332.18,421.22 L332.34,421.44 L332.50,421.66 L332.66,421.88 L332.83,422.09 L333.00,422.30 L333.16,422.49 L333.32,422.67 L333.48,422.86 L333.64,423.04 L333.81,423.21 L333.97,423.39 L334.14,423.56 L334.31,423.73 L334.48,423.89 L334.66,424.06 L334.83,424.22 L335.01,424.37 L335.19,424.53 L335.37,424.68 L335.55,424.82 L335.74,424.97 L335.93,425.11 L336.11,425.24 L336.31,425.37 L336.50,425.50 L336.69,425.62 L336.89,425.73 L337.09,425.84 L337.29,425.95 L337.50,426.04 L337.70,426.14 L337.91,426.23 L338.13,426.32 L338.34,426.40 L338.55,426.48 L338.77,426.56 L338.98,426.64 L339.20,426.72 L339.42,426.80 L339.63,426.88 L339.85,426.96 L340.06,427.04 L340.28,427.13 L340.49,427.21 L340.70,427.30" fill="none" stroke="#000000" stroke-width="1.8" stroke-linecap="round" stroke-linejoin="round"/>
<path d="M321.40,427.30 L321.53,427.27 L321.66,427.23 L321.79,427.20 L321.92,427.17 L322.05,427.14 L322.18,427.11 L322.31,427.08 L322.44,427.05 L322.57,427.02 L322.70,426.99 L322.83,426.96 L322.96,426.93 L323.09,426.90 L323.22,426.86 L323.35,426.82 L323.48,426.78 L323.61,426.74 L323.74,426.70 L323.87,426.65 L324.00,426.60 L324.15,426.54 L324.30,426.48 L324.45,426.42 L324.60,426.35 L324.76,426.28 L324.91,426.21 L325.07,426.14 L325.22,426.07 L325.38,425.99 L325.53,425.91 L325.69,425.83 L325.84,425.75 L325.99,425.67 L326.14,425.58 L326.29,425.49 L326.44,425.40 L326.58,425.30 L326.72,425.20 L326.86,425.10 L327.00,425.00 L327.14,424.89 L327.28,424.78 L327.42,424.66 L327.55,424.54 L327.69,424.42 L327.82,424.29 L327.95,424.17 L328.08,424.04 L328.21,423.90 L328.34,423.77 L328.46,423.63 L328.59,423.49 L328.71,423.35 L328.83,423.20 L328.95,423.06 L329.06,422.91 L329.17,422.76 L329.28,422.61 L329.39,422.45 L329.50,422.30 L329.61,422.13 L329.72,421.96 L329.82,421.79 L329.93,421.61 L330.03,421.43 L330.12,421.24 L330.22,421.06 L330.31,420.87 L330.40,420.68 L330.49,420.49 L330.58,420.29 L330.66,420.10 L330.75,419.90 L330.83,419.70 L330.91,419.50 L330.99,419.30 L331.07,419.10 L331.15,418.90 L331.22,418.70 L331.30,418.50 L331.38,418.29 L331.46,418.07 L331.53,417.86 L331.60,417.65 L331.67,417.43 L331.74,417.21 L331.81,417.00 L331.87,416.78 L331.94,416.56 L332.00,416.34 L332.06,416.11 L332.12,415.89 L332.18,415.66 L332.24,415.43 L332.30,415.20 L332.36,414.96 L332.42,414.73 L332.48,414.49 L332.54,414.25 L332.60,414.00 L332.67,413.70 L332.74,413.40 L332.81,413.09 L332.88,412.78 L332.94,412.46 L333.01,412.14 L333.07,411.82 L333.13,411.49 L333.20,411.16 L333.26,410.83 L333.32,410.49 L333.39,410.16 L333.45,409.82 L333.51,409.49 L333.57,409.15 L333.64,408.82 L333.70,408.49 L333.77,408.16 L333.83,407.83 L333.90,407.50 L333.97,407.17 L334.04,406.85 L334.10,406.52 L334.17,406.19 L334.24,405.87 L334.31,405.54 L334.38,405.21 L334.45,404.89 L334.51,404.56 L334.58,404.23 L334.65,403.91 L334.72,403.58 L334.79,403.25 L334.87,402.93 L334.94,402.60 L335.01,402.28 L335.08,401.96 L335.15,401.64 L335.23,401.32 L335.30,401.00 L335.37,400.69 L335.44,400.39 L335.52,400.09 L335.59,399.79 L335.66,399.50 L335.73,399.20 L335.81,398.91 L335.88,398.61 L335.95,398.32 L336.03,398.03 L336.10,397.73 L336.18,397.44 L336.26,397.14 L336.33,396.84 L336.41,396.54 L336.49,396.24 L336.56,395.93 L336.64,395.63 L336.72,395.31 L336.80,395.00 L336.89,394.64 L336.98,394.28 L337.07,393.92 L337.16,393.55 L337.26,393.18 L337.35,392.81 L337.44,392.44 L337.54,392.06 L337.63,391.68 L337.73,391.30 L337.83,390.92 L337.92,390.54 L338.02,390.16 L338.12,389.78 L338.21,389.39 L338.31,389.01 L338.41,388.63 L338.51,388.25 L338.60,387.88 L338.70,387.50 L338.80,387.13 L338.90,386.75 L338.99,386.38 L339.09,386.02 L339.19,385.65 L339.29,385.28 L339.39,384.92 L339.49,384.55 L339.59,384.19 L339.69,383.82 L339.79,383.45 L339.90,383.08 L340.00,382.71 L340.10,382.33 L340.20,381.95 L340.30,381.57 L340.40,381.19 L340.50,380.80 L340.60,380.40 L340.70,380.00 L340.81,379.53 L340.93,379.06 L341.04,378.58 L341.16,378.09 L341.27,377.60 L341.39,377.11 L341.50,376.61 L341.62,376.11 L341.73,375.60 L341.85,375.09 L341.96,374.58 L342.08,374.07 L342.19,373.56 L342.31,373.05 L342.42,372.53 L342.54,372.02 L342.65,371.51 L342.77,371.01 L342.88,370.50 L343.00,370.00 L343.11,369.50 L343.23,369.00 L343.34,368.50 L343.46,368.00 L343.57,367.50 L343.68,367.00 L343.80,366.50 L343.91,366.00 L344.02,365.50 L344.14,365.00 L344.25,364.50 L344.37,364.00 L344.48,363.50 L344.60,363.00 L344.71,362.50 L344.83,362.00 L344.94,361.50 L345.06,361.00 L345.18,360.50 L345.30,360.00 L345.42,359.50 L345.54,359.00 L345.66,358.50 L345.79,358.00 L345.91,357.50 L346.04,357.00 L346.16,356.50 L346.29,356.00 L346.41,355.50 L346.54,355.00 L346.66,354.50 L346.79,354.00 L346.92,353.50 L347.04,353.00 L347.17,352.50 L347.30,352.00 L347.42,351.50 L347.55,351.00 L347.67,350.50 L347.80,350.00 L347.92,349.50 L348.05,349.00 L348.17,348.50 L348.30,348.00 L348.42,347.50 L348.54,347.00 L348.67,346.50 L348.79,346.00 L348.91,345.50 L349.04,345.00 L349.16,344.50 L349.29,344.00 L349.41,343.50 L349.54,343.00 L349.66,342.50 L349.79,342.00 L349.91,341.50 L350.04,341.00 L350.17,340.50 L350.30,340.00 L350.43,339.50 L350.56,339.00 L350.70,338.50 L350.83,338.00 L350.96,337.49 L351.10,336.99 L351.23,336.49 L351.37,335.99 L351.51,335.49 L351.64,334.99 L351.78,334.49 L351.91,333.99 L352.05,333.49 L352.19,332.99 L352.32,332.49 L352.46,331.99 L352.60,331.49 L352.73,330.99 L352.87,330.50 L353.00,330.00 L353.13,329.51 L353.26,329.03 L353.39,328.54 L353.52,328.06 L353.64,327.58 L353.77,327.09 L353.90,326.61 L354.02,326.13 L354.15,325.65 L354.28,325.17 L354.41,324.69 L354.53,324.21 L354.66,323.72 L354.79,323.24 L354.92,322.76 L355.05,322.27 L355.19,321.78 L355.32,321.29 L355.46,320.80 L355.60,320.30 L355.75,319.77 L355.90,319.24 L356.05,318.70 L356.20,318.16 L356.35,317.62 L356.50,317.07 L356.65,316.52 L356.81,315.98 L356.96,315.43 L357.12,314.88 L357.28,314.33 L357.44,313.78 L357.60,313.23 L357.76,312.69 L357.93,312.15 L358.10,311.61 L358.27,311.08 L358.44,310.55 L358.62,310.02 L358.80,309.50 L358.97,309.01 L359.15,308.52 L359.33,308.03 L359.51,307.55 L359.69,307.06 L359.88,306.58 L360.06,306.10 L360.25,305.62 L360.44,305.15 L360.64,304.67 L360.83,304.20 L361.02,303.73 L361.22,303.27 L361.42,302.81 L361.61,302.35 L361.81,301.89 L362.01,301.44 L362.21,300.99 L362.40,300.54 L362.60,300.10 L362.78,299.70 L362.96,299.31 L363.13,298.91 L363.31,298.52 L363.48,298.13 L363.66,297.75 L363.83,297.36 L364.01,296.98 L364.19,296.61 L364.36,296.23 L364.54,295.86 L364.73,295.48 L364.91,295.12 L365.10,294.75 L365.29,294.39 L365.48,294.02 L365.68,293.66 L365.88,293.31 L366.09,292.95 L366.30,292.60 L366.51,292.26 L366.72,291.91 L366.94,291.56 L367.16,291.22 L367.38,290.87 L367.60,290.52 L367.83,290.18 L368.06,289.84 L368.29,289.50 L368.52,289.17 L368.76,288.84 L369.00,288.51 L369.24,288.19 L369.49,287.88 L369.73,287.58 L369.98,287.28 L370.23,287.00 L370.49,286.72 L370.74,286.45 L371.00,286.20 L371.22,285.99 L371.44,285.79 L371.67,285.60 L371.90,285.41 L372.13,285.23 L372.37,285.05 L372.60,284.88 L372.84,284.71 L373.08,284.55 L373.32,284.39 L373.56,284.24 L373.80,284.09 L374.04,283.94 L374.28,283.80 L374.52,283.66 L374.76,283.52 L375.00,283.39 L375.24,283.26 L375.47,283.13 L375.70,283.00 L375.90,282.89 L376.10,282.79 L376.29,282.69 L376.49,282.60 L376.69,282.51 L376.88,282.42 L377.08,282.33 L377.27,282.25 L377.47,282.17 L377.66,282.09 L377.85,282.01 L378.05,281.93 L378.24,281.86 L378.43,281.78 L378.63,281.70 L378.82,281.62 L379.02,281.55 L379.21,281.47 L379.41,281.38 L379.60,281.30" fill="none" stroke="#000000" stroke-width="1.8" stroke-linecap="round" stroke-linejoin="round"/>
<path d="M207.20,308.10 L208.34,308.10 L209.48,308.11 L210.61,308.11 L211.75,308.12 L212.88,308.12 L214.01,308.13 L215.15,308.13 L216.28,308.14 L217.41,308.14 L218.55,308.14 L219.68,308.15 L220.82,308.15 L221.96,308.16 L223.10,308.16 L224.24,308.17 L225.39,308.17 L226.54,308.18 L227.69,308.19 L228.84,308.19 L230.00,308.20 L231.21,308.21 L232.43,308.22 L233.66,308.22 L234.90,308.23 L236.15,308.24 L237.40,308.25 L238.66,308.26 L239.92,308.27 L241.18,308.27 L242.43,308.28 L243.68,308.29 L244.93,308.30 L246.17,308.31 L247.40,308.33 L248.62,308.34 L249.83,308.35 L251.02,308.36 L252.20,308.37 L253.36,308.39 L254.50,308.40 L255.47,308.41 L256.45,308.42 L257.44,308.44 L258.42,308.45 L259.41,308.46 L260.39,308.47 L261.36,308.49 L262.33,308.50 L263.29,308.51 L264.23,308.53 L265.17,308.54 L266.08,308.56 L266.97,308.57 L267.85,308.59 L268.70,308.60 L269.52,308.62 L270.31,308.64 L271.08,308.66 L271.81,308.68 L272.50,308.70 L272.90,308.71 L273.28,308.73 L273.65,308.74 L274.01,308.75 L274.36,308.76 L274.70,308.78 L275.03,308.79 L275.35,308.80 L275.67,308.82 L275.98,308.83 L276.28,308.84 L276.58,308.86 L276.88,308.87 L277.18,308.89 L277.48,308.91 L277.78,308.92 L278.08,308.94 L278.38,308.96 L278.69,308.98 L279.00,309.00 L279.30,309.02 L279.60,309.04 L279.90,309.06 L280.20,309.08 L280.49,309.09 L280.79,309.11 L281.09,309.13 L281.39,309.15 L281.68,309.17 L281.97,309.19 L282.27,309.22 L282.56,309.24 L282.85,309.27 L283.13,309.29 L283.42,309.32 L283.70,309.35 L283.98,309.39 L284.26,309.42 L284.53,309.46 L284.80,309.50 L285.04,309.54 L285.27,309.57 L285.50,309.61 L285.73,309.65 L285.96,309.69 L286.19,309.73 L286.42,309.77 L286.64,309.81 L286.87,309.86 L287.09,309.91 L287.31,309.95 L287.53,310.00 L287.74,310.06 L287.96,310.11 L288.17,310.17 L288.38,310.23 L288.59,310.29 L288.79,310.36 L289.00,310.43 L289.20,310.50 L289.38,310.57 L289.56,310.64 L289.74,310.71 L289.92,310.79 L290.09,310.87 L290.26,310.95 L290.43,311.03 L290.59,311.11 L290.76,311.20 L290.92,311.28 L291.09,311.37 L291.25,311.47 L291.41,311.56 L291.58,311.66 L291.74,311.76 L291.91,311.86 L292.08,311.97 L292.25,312.08 L292.42,312.19 L292.60,312.30 L292.82,312.45 L293.05,312.60 L293.28,312.76 L293.52,312.93 L293.76,313.10 L294.00,313.27 L294.25,313.45 L294.49,313.64 L294.74,313.83 L294.98,314.02 L295.22,314.21 L295.46,314.40 L295.70,314.59 L295.93,314.79 L296.16,314.98 L296.38,315.17 L296.60,315.36 L296.81,315.54 L297.01,315.72 L297.20,315.90 L297.34,316.04 L297.49,316.18 L297.62,316.32 L297.75,316.46 L297.88,316.60 L298.01,316.74 L298.13,316.88 L298.26,317.02 L298.37,317.15 L298.49,317.29 L298.61,317.43 L298.72,317.57 L298.83,317.70 L298.94,317.84 L299.05,317.97 L299.16,318.10 L299.27,318.23 L299.38,318.35 L299.49,318.48 L299.60,318.60 L299.69,318.70 L299.78,318.79 L299.87,318.88 L299.95,318.97 L300.04,319.05 L300.12,319.13 L300.21,319.21 L300.29,319.29 L300.37,319.37 L300.46,319.45 L300.54,319.53 L300.62,319.61 L300.70,319.70 L300.79,319.78 L300.87,319.88 L300.95,319.97 L301.04,320.07 L301.13,320.17 L301.21,320.28 L301.30,320.40 L301.44,320.59 L301.58,320.79 L301.72,321.01 L301.86,321.23 L302.01,321.46 L302.15,321.71 L302.30,321.96 L302.45,322.21 L302.60,322.47 L302.74,322.74 L302.89,323.01 L303.04,323.29 L303.19,323.56 L303.34,323.84 L303.48,324.12 L303.63,324.40 L303.78,324.68 L303.92,324.96 L304.06,325.23 L304.20,325.50 L304.35,325.79 L304.49,326.07 L304.64,326.36 L304.78,326.64 L304.92,326.93 L305.06,327.22 L305.20,327.51 L305.34,327.80 L305.48,328.10 L305.62,328.39 L305.76,328.69 L305.89,328.99 L306.03,329.29 L306.17,329.60 L306.31,329.91 L306.44,330.22 L306.58,330.53 L306.72,330.85 L306.86,331.17 L307.00,331.50 L307.16,331.89 L307.33,332.28 L307.49,332.68 L307.66,333.09 L307.82,333.50 L307.99,333.91 L308.15,334.33 L308.31,334.75 L308.48,335.18 L308.64,335.61 L308.81,336.04 L308.97,336.47 L309.14,336.91 L309.30,337.35 L309.47,337.79 L309.63,338.23 L309.80,338.67 L309.97,339.11 L310.13,339.56 L310.30,340.00 L310.48,340.48 L310.67,340.97 L310.85,341.45 L311.03,341.95 L311.22,342.44 L311.41,342.94 L311.59,343.44 L311.78,343.94 L311.97,344.44 L312.15,344.95 L312.34,345.45 L312.53,345.96 L312.71,346.46 L312.90,346.97 L313.09,347.48 L313.27,347.98 L313.45,348.49 L313.64,348.99 L313.82,349.50 L314.00,350.00 L314.18,350.50 L314.36,351.00 L314.54,351.50 L314.72,352.00 L314.90,352.50 L315.08,352.99 L315.26,353.49 L315.44,353.99 L315.62,354.49 L315.80,354.99 L315.97,355.49 L316.15,355.99 L316.33,356.49 L316.50,356.99 L316.67,357.49 L316.84,357.99 L317.01,358.49 L317.17,359.00 L317.34,359.50 L317.50,360.00 L317.66,360.50 L317.81,361.00 L317.97,361.50 L318.12,361.99 L318.27,362.49 L318.41,362.99 L318.56,363.49 L318.71,363.99 L318.85,364.49 L318.99,364.99 L319.13,365.49 L319.27,365.99 L319.41,366.50 L319.55,367.00 L319.70,367.50 L319.84,368.00 L319.98,368.50 L320.12,369.00 L320.26,369.50 L320.40,370.00 L320.54,370.50 L320.68,371.00 L320.83,371.51 L320.97,372.02 L321.11,372.53 L321.25,373.03 L321.39,373.54 L321.53,374.05 L321.67,374.56 L321.81,375.07 L321.95,375.58 L322.09,376.08 L322.23,376.58 L322.37,377.08 L322.51,377.58 L322.65,378.07 L322.79,378.56 L322.93,379.05 L323.06,379.53 L323.20,380.00 L323.32,380.42 L323.44,380.84 L323.57,381.25 L323.69,381.67 L323.81,382.08 L323.93,382.48 L324.05,382.89 L324.18,383.29 L324.30,383.69 L324.42,384.09 L324.54,384.49 L324.66,384.88 L324.78,385.28 L324.90,385.67 L325.01,386.06 L325.13,386.45 L325.25,386.84 L325.37,387.23 L325.48,387.61 L325.60,388.00 L325.71,388.36 L325.82,388.72 L325.92,389.07 L326.03,389.42 L326.13,389.77 L326.24,390.12 L326.34,390.47 L326.45,390.81 L326.55,391.16 L326.66,391.50 L326.76,391.84 L326.86,392.19 L326.97,392.53 L327.07,392.88 L327.17,393.23 L327.28,393.58 L327.38,393.93 L327.49,394.28 L327.59,394.64 L327.70,395.00 L327.81,395.39 L327.93,395.78 L328.04,396.18 L328.16,396.57 L328.27,396.97 L328.38,397.38 L328.50,397.78 L328.61,398.19 L328.73,398.59 L328.84,399.00 L328.96,399.41 L329.07,399.81 L329.19,400.22 L329.30,400.62 L329.42,401.03 L329.54,401.43 L329.65,401.83 L329.77,402.22 L329.88,402.61 L330.00,403.00 L330.11,403.36 L330.22,403.72 L330.33,404.08 L330.43,404.44 L330.54,404.79 L330.65,405.15 L330.76,405.50 L330.87,405.86 L330.98,406.21 L331.08,406.56 L331.19,406.91 L331.30,407.25 L331.41,407.60 L331.52,407.95 L331.63,408.29 L331.75,408.63 L331.86,408.98 L331.97,409.32 L332.09,409.66 L332.20,410.00 L332.31,410.32 L332.42,410.65 L332.53,410.97 L332.64,411.30 L332.75,411.62 L332.86,411.94 L332.97,412.26 L333.09,412.58 L333.20,412.90 L333.31,413.22 L333.43,413.54 L333.54,413.85 L333.66,414.16 L333.77,414.47 L333.89,414.78 L334.01,415.09 L334.13,415.40 L334.25,415.70 L334.38,416.00 L334.50,416.30 L334.62,416.58 L334.73,416.85 L334.85,417.13 L334.96,417.40 L335.08,417.68 L335.20,417.95 L335.31,418.22 L335.43,418.49 L335.55,418.76 L335.67,419.02 L335.79,419.29 L335.92,419.55 L336.04,419.80 L336.17,420.06 L336.30,420.31 L336.44,420.56 L336.57,420.80 L336.71,421.04 L336.85,421.27 L337.00,421.50 L337.13,421.70 L337.27,421.90 L337.41,422.10 L337.55,422.29 L337.70,422.49 L337.84,422.68 L337.99,422.87 L338.14,423.05 L338.30,423.23 L338.45,423.41 L338.60,423.59 L338.76,423.76 L338.91,423.93 L339.07,424.10 L339.23,424.26 L339.38,424.42 L339.54,424.57 L339.69,424.72 L339.85,424.86 L340.00,425.00 L340.12,425.11 L340.25,425.22 L340.37,425.32 L340.50,425.42 L340.63,425.52 L340.76,425.62 L340.88,425.71 L341.01,425.80 L341.14,425.89 L341.27,425.98 L341.39,426.06 L341.52,426.14 L341.65,426.22 L341.77,426.30 L341.90,426.37 L342.02,426.44 L342.14,426.51 L342.26,426.58 L342.38,426.64 L342.50,426.70 L342.59,426.74 L342.68,426.79 L342.77,426.82 L342.85,426.86 L342.94,426.89 L343.02,426.93 L343.11,426.96 L343.19,426.98 L343.28,427.01 L343.36,427.04 L343.45,427.06 L343.53,427.09 L343.61,427.11 L343.70,427.14 L343.78,427.16 L343.86,427.19 L343.95,427.22 L344.03,427.24 L344.12,427.27 L344.20,427.30" fill="none" stroke="#0000ff" stroke-width="1.8" stroke-linecap="round" stroke-linejoin="round"/>
<path d="M323.10,427.30 L323.25,427.27 L323.39,427.23 L323.54,427.20 L323.68,427.17 L323.83,427.14 L323.97,427.11 L324.12,427.09 L324.26,427.06 L324.41,427.03 L324.56,427.00 L324.70,426.97 L324.85,426.94 L324.99,426.90 L325.14,426.87 L325.28,426.83 L325.43,426.79 L325.57,426.75 L325.71,426.70 L325.86,426.65 L326.00,426.60 L326.15,426.54 L326.31,426.48 L326.46,426.42 L326.61,426.35 L326.77,426.28 L326.92,426.21 L327.08,426.14 L327.23,426.07 L327.38,425.99 L327.54,425.91 L327.69,425.83 L327.84,425.75 L327.99,425.66 L328.14,425.57 L328.29,425.48 L328.43,425.39 L328.58,425.30 L328.72,425.20 L328.86,425.10 L329.00,425.00 L329.14,424.89 L329.28,424.78 L329.43,424.67 L329.57,424.56 L329.70,424.44 L329.84,424.32 L329.98,424.20 L330.11,424.07 L330.25,423.95 L330.38,423.82 L330.51,423.69 L330.64,423.55 L330.77,423.42 L330.89,423.28 L331.01,423.14 L331.14,422.99 L331.25,422.85 L331.37,422.70 L331.49,422.55 L331.60,422.40 L331.72,422.23 L331.84,422.06 L331.95,421.88 L332.06,421.70 L332.17,421.52 L332.28,421.33 L332.38,421.14 L332.48,420.95 L332.58,420.76 L332.68,420.56 L332.78,420.36 L332.87,420.16 L332.97,419.96 L333.06,419.75 L333.15,419.54 L333.24,419.34 L333.33,419.13 L333.42,418.92 L333.51,418.71 L333.60,418.50 L333.70,418.27 L333.79,418.03 L333.88,417.79 L333.98,417.55 L334.07,417.30 L334.15,417.06 L334.24,416.81 L334.33,416.56 L334.41,416.30 L334.49,416.05 L334.58,415.79 L334.66,415.54 L334.74,415.28 L334.82,415.03 L334.90,414.77 L334.98,414.51 L335.06,414.26 L335.14,414.00 L335.22,413.75 L335.30,413.50 L335.38,413.25 L335.46,413.00 L335.53,412.76 L335.61,412.51 L335.69,412.27 L335.76,412.02 L335.84,411.78 L335.91,411.53 L335.98,411.29 L336.06,411.04 L336.13,410.80 L336.20,410.55 L336.28,410.30 L336.35,410.05 L336.42,409.80 L336.50,409.54 L336.57,409.29 L336.65,409.03 L336.72,408.77 L336.80,408.50 L336.89,408.19 L336.98,407.89 L337.06,407.57 L337.15,407.26 L337.24,406.94 L337.33,406.62 L337.42,406.30 L337.51,405.97 L337.60,405.65 L337.69,405.32 L337.78,404.99 L337.87,404.66 L337.96,404.33 L338.05,404.00 L338.15,403.66 L338.24,403.33 L338.33,403.00 L338.42,402.66 L338.51,402.33 L338.60,402.00 L338.69,401.66 L338.79,401.31 L338.88,400.97 L338.98,400.62 L339.07,400.27 L339.17,399.93 L339.26,399.58 L339.36,399.23 L339.46,398.88 L339.55,398.53 L339.65,398.18 L339.74,397.83 L339.84,397.48 L339.93,397.13 L340.03,396.77 L340.12,396.42 L340.22,396.07 L340.31,395.71 L340.41,395.36 L340.50,395.00 L340.60,394.63 L340.69,394.26 L340.79,393.89 L340.88,393.52 L340.98,393.14 L341.07,392.77 L341.17,392.39 L341.26,392.02 L341.35,391.64 L341.45,391.27 L341.54,390.89 L341.64,390.51 L341.73,390.14 L341.82,389.76 L341.92,389.38 L342.01,389.00 L342.11,388.63 L342.21,388.25 L342.30,387.88 L342.40,387.50 L342.50,387.13 L342.60,386.75 L342.70,386.39 L342.80,386.02 L342.90,385.65 L343.00,385.28 L343.10,384.92 L343.20,384.55 L343.30,384.19 L343.40,383.82 L343.51,383.45 L343.61,383.08 L343.71,382.71 L343.81,382.33 L343.91,381.95 L344.01,381.57 L344.11,381.19 L344.21,380.80 L344.30,380.40 L344.40,380.00 L344.51,379.53 L344.62,379.06 L344.73,378.58 L344.83,378.10 L344.94,377.60 L345.04,377.11 L345.15,376.61 L345.25,376.11 L345.35,375.60 L345.46,375.09 L345.56,374.58 L345.66,374.07 L345.77,373.56 L345.87,373.05 L345.97,372.53 L346.08,372.02 L346.18,371.51 L346.29,371.01 L346.39,370.50 L346.50,370.00 L346.61,369.50 L346.72,369.00 L346.82,368.50 L346.93,368.00 L347.04,367.50 L347.15,367.00 L347.26,366.50 L347.37,366.00 L347.48,365.50 L347.59,365.00 L347.70,364.50 L347.81,364.00 L347.92,363.50 L348.03,363.00 L348.14,362.50 L348.25,362.00 L348.36,361.50 L348.48,361.00 L348.59,360.50 L348.70,360.00 L348.81,359.50 L348.93,359.00 L349.04,358.50 L349.15,358.00 L349.27,357.50 L349.38,357.00 L349.49,356.50 L349.61,356.00 L349.72,355.50 L349.84,355.00 L349.95,354.50 L350.07,354.00 L350.18,353.50 L350.30,353.00 L350.42,352.50 L350.53,352.00 L350.65,351.50 L350.77,351.00 L350.88,350.50 L351.00,350.00 L351.12,349.50 L351.23,349.00 L351.35,348.50 L351.47,348.00 L351.58,347.50 L351.70,347.00 L351.82,346.50 L351.93,346.00 L352.05,345.50 L352.17,345.00 L352.29,344.50 L352.41,344.00 L352.53,343.50 L352.65,343.00 L352.77,342.50 L352.89,342.00 L353.02,341.50 L353.14,341.00 L353.27,340.50 L353.40,340.00 L353.53,339.50 L353.66,339.00 L353.80,338.50 L353.93,337.99 L354.07,337.49 L354.21,336.99 L354.35,336.49 L354.49,335.99 L354.63,335.49 L354.77,334.99 L354.92,334.49 L355.06,333.99 L355.20,333.49 L355.34,332.99 L355.49,332.49 L355.63,331.99 L355.77,331.49 L355.92,330.99 L356.06,330.50 L356.20,330.00 L356.34,329.51 L356.48,329.03 L356.61,328.54 L356.75,328.06 L356.88,327.57 L357.02,327.09 L357.15,326.61 L357.29,326.13 L357.43,325.65 L357.56,325.17 L357.70,324.69 L357.84,324.21 L357.98,323.72 L358.12,323.24 L358.26,322.75 L358.40,322.27 L358.55,321.78 L358.70,321.29 L358.85,320.80 L359.00,320.30 L359.17,319.77 L359.33,319.24 L359.50,318.70 L359.67,318.16 L359.85,317.62 L360.02,317.07 L360.20,316.52 L360.38,315.98 L360.56,315.43 L360.74,314.88 L360.92,314.33 L361.10,313.78 L361.29,313.24 L361.47,312.69 L361.66,312.15 L361.85,311.61 L362.04,311.08 L362.22,310.55 L362.41,310.02 L362.60,309.50 L362.78,309.01 L362.96,308.52 L363.13,308.04 L363.31,307.55 L363.49,307.07 L363.67,306.59 L363.85,306.11 L364.04,305.63 L364.22,305.15 L364.40,304.68 L364.59,304.20 L364.77,303.74 L364.96,303.27 L365.14,302.81 L365.33,302.35 L365.52,301.89 L365.72,301.44 L365.91,300.99 L366.10,300.54 L366.30,300.10 L366.48,299.70 L366.66,299.30 L366.84,298.91 L367.02,298.52 L367.20,298.13 L367.38,297.75 L367.56,297.36 L367.74,296.98 L367.92,296.60 L368.11,296.23 L368.30,295.85 L368.48,295.48 L368.68,295.12 L368.87,294.75 L369.07,294.39 L369.27,294.02 L369.47,293.66 L369.68,293.31 L369.89,292.95 L370.10,292.60 L370.31,292.26 L370.53,291.91 L370.75,291.57 L370.98,291.23 L371.21,290.88 L371.44,290.54 L371.67,290.20 L371.91,289.86 L372.15,289.53 L372.39,289.20 L372.63,288.87 L372.88,288.55 L373.12,288.23 L373.36,287.92 L373.61,287.61 L373.85,287.31 L374.09,287.02 L374.33,286.74 L374.57,286.47 L374.80,286.20 L374.99,285.99 L375.18,285.79 L375.38,285.59 L375.58,285.39 L375.78,285.20 L375.98,285.01 L376.19,284.83 L376.39,284.64 L376.59,284.47 L376.79,284.29 L376.99,284.12 L377.18,283.96 L377.37,283.80 L377.55,283.64 L377.73,283.49 L377.90,283.34 L378.07,283.20 L378.22,283.06 L378.36,282.93 L378.50,282.80 L378.57,282.73 L378.64,282.67 L378.70,282.60 L378.76,282.54 L378.82,282.49 L378.88,282.43 L378.94,282.37 L378.99,282.32 L379.04,282.27 L379.09,282.21 L379.14,282.16 L379.19,282.11 L379.24,282.06 L379.29,282.01 L379.34,281.96 L379.39,281.91 L379.44,281.86 L379.49,281.81 L379.55,281.75 L379.60,281.70" fill="none" stroke="#0000ff" stroke-width="1.8" stroke-linecap="round" stroke-linejoin="round"/>
<rect x="184.40" y="251.20" width="219.10" height="176.30" fill="none" stroke="#444" stroke-width="1.05"/>
<line x1="184.40" y1="427.50" x2="184.40" y2="430.70" stroke="#444" stroke-width="1.05"/>
<text x="184.40" y="439.00" class="tk" text-anchor="middle">15</text>
<line x1="206.31" y1="427.50" x2="206.31" y2="429.30" stroke="#444" stroke-width="1.05"/>
<line x1="228.22" y1="427.50" x2="228.22" y2="430.70" stroke="#444" stroke-width="1.05"/>
<text x="228.22" y="439.00" class="tk" text-anchor="middle">20</text>
<line x1="250.13" y1="427.50" x2="250.13" y2="429.30" stroke="#444" stroke-width="1.05"/>
<line x1="272.04" y1="427.50" x2="272.04" y2="430.70" stroke="#444" stroke-width="1.05"/>
<text x="272.04" y="439.00" class="tk" text-anchor="middle">25</text>
<line x1="293.95" y1="427.50" x2="293.95" y2="429.30" stroke="#444" stroke-width="1.05"/>
<line x1="315.86" y1="427.50" x2="315.86" y2="430.70" stroke="#444" stroke-width="1.05"/>
<text x="315.86" y="439.00" class="tk" text-anchor="middle">30</text>
<line x1="337.77" y1="427.50" x2="337.77" y2="429.30" stroke="#444" stroke-width="1.05"/>
<line x1="359.68" y1="427.50" x2="359.68" y2="430.70" stroke="#444" stroke-width="1.05"/>
<text x="359.68" y="439.00" class="tk" text-anchor="middle">35</text>
<line x1="381.59" y1="427.50" x2="381.59" y2="429.30" stroke="#444" stroke-width="1.05"/>
<line x1="403.50" y1="427.50" x2="403.50" y2="430.70" stroke="#444" stroke-width="1.05"/>
<text x="403.50" y="439.00" class="tk" text-anchor="middle">40</text>
<line x1="184.40" y1="427.50" x2="181.20" y2="427.50" stroke="#444" stroke-width="1.05"/>
<text x="178.80" y="429.70" class="tk" text-anchor="end">0</text>
<line x1="184.40" y1="415.75" x2="182.60" y2="415.75" stroke="#444" stroke-width="1.05"/>
<line x1="184.40" y1="403.99" x2="181.20" y2="403.99" stroke="#444" stroke-width="1.05"/>
<text x="178.80" y="406.19" class="tk" text-anchor="end">200</text>
<line x1="184.40" y1="392.24" x2="182.60" y2="392.24" stroke="#444" stroke-width="1.05"/>
<line x1="184.40" y1="380.49" x2="181.20" y2="380.49" stroke="#444" stroke-width="1.05"/>
<text x="178.80" y="382.69" class="tk" text-anchor="end">400</text>
<line x1="184.40" y1="368.73" x2="182.60" y2="368.73" stroke="#444" stroke-width="1.05"/>
<line x1="184.40" y1="356.98" x2="181.20" y2="356.98" stroke="#444" stroke-width="1.05"/>
<text x="178.80" y="359.18" class="tk" text-anchor="end">600</text>
<line x1="184.40" y1="345.23" x2="182.60" y2="345.23" stroke="#444" stroke-width="1.05"/>
<line x1="184.40" y1="333.47" x2="181.20" y2="333.47" stroke="#444" stroke-width="1.05"/>
<text x="178.80" y="335.67" class="tk" text-anchor="end">800</text>
<line x1="184.40" y1="321.72" x2="182.60" y2="321.72" stroke="#444" stroke-width="1.05"/>
<line x1="184.40" y1="309.97" x2="181.20" y2="309.97" stroke="#444" stroke-width="1.05"/>
<text x="178.80" y="312.17" class="tk" text-anchor="end">1000</text>
<line x1="184.40" y1="298.21" x2="182.60" y2="298.21" stroke="#444" stroke-width="1.05"/>
<line x1="184.40" y1="286.46" x2="181.20" y2="286.46" stroke="#444" stroke-width="1.05"/>
<text x="178.80" y="288.66" class="tk" text-anchor="end">1200</text>
<line x1="184.40" y1="274.71" x2="182.60" y2="274.71" stroke="#444" stroke-width="1.05"/>
<line x1="184.40" y1="262.95" x2="181.20" y2="262.95" stroke="#444" stroke-width="1.05"/>
<text x="178.80" y="265.15" class="tk" text-anchor="end">1400</text>
<line x1="184.40" y1="251.20" x2="182.60" y2="251.20" stroke="#444" stroke-width="1.05"/>
<text x="293.95" y="454.10" class="lab" text-anchor="middle">Voltage (V)</text>
<text x="0" y="0" class="lab" text-anchor="middle" transform="translate(157.70,338.55) rotate(-90)">Energy (Wh)</text>
<line x1="195.80" y1="259.45" x2="215.70" y2="259.45" stroke="#000000" stroke-width="1.9" stroke-linecap="round"/>
<text x="218.60" y="262.75" class="leg">2 kW &amp; 3 kW</text>
<line x1="195.80" y1="270.70" x2="215.70" y2="270.70" stroke="#0000ff" stroke-width="1.9" stroke-linecap="round"/>
<text x="218.60" y="274.00" class="leg">3 kW &amp; 2 kW</text>
<text x="280.80" y="470.60" class="cap" text-anchor="middle">(<tspan font-weight="bold">c</tspan>)</text>
</svg>
</body></html>
